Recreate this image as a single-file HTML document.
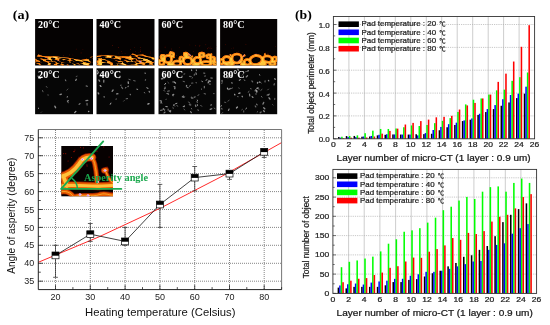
<!DOCTYPE html>
<html lang="en"><head><meta charset="utf-8"><title>Figure</title>
<style>html,body{margin:0;padding:0;background:#fff;overflow:hidden}svg{display:block}.s{font-family:'Liberation Sans', Arial, sans-serif}.r{font-family:'Liberation Serif', 'Times New Roman', serif}</style>
</head><body>
<svg width="550" height="325" viewBox="0 0 550 325">
<defs><filter id="b1" x="-5%" y="-5%" width="110%" height="110%"><feGaussianBlur stdDeviation="0.45"/></filter><filter id="b2"><feGaussianBlur stdDeviation="0.42"/></filter></defs>
<rect width="550" height="325" fill="#fff"/>
<text class="r" x="12.7" y="19.3" font-size="13" text-anchor="start" fill="#000" font-weight="bold" textLength="16.6" lengthAdjust="spacingAndGlyphs">(a)</text>
<text class="r" x="295.0" y="19.4" font-size="13" text-anchor="start" fill="#000" font-weight="bold" textLength="16.8" lengthAdjust="spacingAndGlyphs">(b)</text>
<filter id="net" x="-5%" y="-20%" width="110%" height="140%"><feMorphology in="SourceAlpha" operator="erode" radius="0.2" result="o"/><feFlood flood-color="#ff8814"/><feComposite in2="o" operator="in" result="or"/><feMorphology in="SourceAlpha" operator="erode" radius="0.55" result="e"/><feFlood flood-color="#ffd040"/><feComposite in2="e" operator="in" result="y"/><feMerge result="m"><feMergeNode in="SourceGraphic"/><feMergeNode in="or"/><feMergeNode in="y"/></feMerge><feGaussianBlur in="m" stdDeviation="0.35"/></filter>
<clipPath id="c0"><rect x="35.1" y="19.0" width="57.9" height="46.5"/></clipPath>
<rect x="35.1" y="19.0" width="57.9" height="46.5" fill="#050202"/>
<rect x="35.1" y="68.3" width="57.9" height="45.9" fill="#060606"/>
<g clip-path="url(#c0)">
<circle cx="63.6" cy="55.8" r="0.45" fill="#9a1400" opacity="0.74"/>
<circle cx="76.2" cy="49.1" r="0.45" fill="#9a1400" opacity="0.79"/>
<circle cx="81.1" cy="52.9" r="0.45" fill="#9a1400" opacity="0.87"/>
<circle cx="82.9" cy="49.3" r="0.45" fill="#9a1400" opacity="0.44"/>
<circle cx="72.9" cy="54.9" r="0.45" fill="#9a1400" opacity="0.57"/>
<circle cx="69.5" cy="54.9" r="0.45" fill="#9a1400" opacity="0.80"/>
<mask id="m0"><polygon points="34.1,59.1 35.1,59.1 38.3,54.6 42.7,55.9 49.1,56.5 55.5,56.3 61.8,57.2 68.2,57.8 74.5,59.1 80.9,60.1 86.0,59.1 89.8,57.2 93.0,55.9 94.0,55.9 94.0,66.5 34.1,66.5" fill="#fff"/><g fill="#000">
<ellipse cx="53.1" cy="58.7" rx="2.5" ry="1.3" transform="rotate(8 53.1 58.7)"/>
<ellipse cx="73.4" cy="60.2" rx="3.1" ry="1.0" transform="rotate(23 73.4 60.2)"/>
<ellipse cx="66.3" cy="61.4" rx="3.5" ry="1.5" transform="rotate(7 66.3 61.4)"/>
<ellipse cx="36.7" cy="62.2" rx="4.8" ry="0.8" transform="rotate(7 36.7 62.2)"/>
<ellipse cx="37.4" cy="57.6" rx="3.7" ry="1.2" transform="rotate(7 37.4 57.6)"/>
<ellipse cx="59.4" cy="65.0" rx="2.5" ry="1.1" transform="rotate(16 59.4 65.0)"/>
<ellipse cx="71.9" cy="66.1" rx="3.2" ry="1.2" transform="rotate(8 71.9 66.1)"/>
<ellipse cx="93.5" cy="57.3" rx="2.7" ry="1.0" transform="rotate(7 93.5 57.3)"/>
<ellipse cx="86.2" cy="61.8" rx="4.8" ry="1.0" transform="rotate(15 86.2 61.8)"/>
<ellipse cx="52.2" cy="64.8" rx="2.0" ry="1.5" transform="rotate(25 52.2 64.8)"/>
<ellipse cx="44.3" cy="62.5" rx="4.5" ry="1.2" transform="rotate(17 44.3 62.5)"/>
<ellipse cx="72.6" cy="62.2" rx="2.7" ry="1.3" transform="rotate(21 72.6 62.2)"/>
<ellipse cx="67.0" cy="59.1" rx="2.8" ry="0.9" transform="rotate(5 67.0 59.1)"/>
<ellipse cx="52.5" cy="62.7" rx="3.7" ry="1.1" transform="rotate(10 52.5 62.7)"/>
<ellipse cx="61.2" cy="60.5" rx="2.3" ry="1.5" transform="rotate(17 61.2 60.5)"/>
<ellipse cx="82.3" cy="64.8" rx="3.9" ry="0.9" transform="rotate(21 82.3 64.8)"/>
<ellipse cx="65.6" cy="65.5" rx="2.2" ry="1.4" transform="rotate(9 65.6 65.5)"/>
<ellipse cx="78.3" cy="62.3" rx="5.1" ry="1.3" transform="rotate(5 78.3 62.3)"/>
<ellipse cx="35.5" cy="64.1" rx="4.2" ry="1.3" transform="rotate(22 35.5 64.1)"/>
<ellipse cx="43.5" cy="58.0" rx="4.6" ry="1.0" transform="rotate(14 43.5 58.0)"/>
<ellipse cx="92.1" cy="63.6" rx="2.0" ry="1.5" transform="rotate(25 92.1 63.6)"/>
<ellipse cx="65.0" cy="63.4" rx="3.3" ry="1.1" transform="rotate(6 65.0 63.4)"/>
<ellipse cx="39.4" cy="59.7" rx="4.3" ry="1.0" transform="rotate(19 39.4 59.7)"/>
<ellipse cx="48.7" cy="60.6" rx="3.1" ry="0.9" transform="rotate(7 48.7 60.6)"/>
<ellipse cx="85.6" cy="66.5" rx="2.7" ry="0.9" transform="rotate(11 85.6 66.5)"/>
<ellipse cx="34.5" cy="66.2" rx="5.2" ry="1.6" transform="rotate(21 34.5 66.2)"/>
<ellipse cx="92.3" cy="61.3" rx="3.6" ry="1.2" transform="rotate(21 92.3 61.3)"/>
<ellipse cx="44.2" cy="64.5" rx="4.4" ry="1.5" transform="rotate(18 44.2 64.5)"/>
<ellipse cx="76.8" cy="64.3" rx="4.0" ry="0.9" transform="rotate(23 76.8 64.3)"/>
<ellipse cx="48.2" cy="66.2" rx="2.3" ry="1.4" transform="rotate(20 48.2 66.2)"/>
<ellipse cx="33.4" cy="59.8" rx="2.5" ry="1.0" transform="rotate(25 33.4 59.8)"/>
<ellipse cx="78.9" cy="66.4" rx="4.4" ry="1.3" transform="rotate(7 78.9 66.4)"/>
<ellipse cx="93.6" cy="65.9" rx="5.0" ry="1.5" transform="rotate(24 93.6 65.9)"/>
<ellipse cx="90.5" cy="58.9" rx="4.7" ry="1.4" transform="rotate(22 90.5 58.9)"/>
<ellipse cx="58.7" cy="62.3" rx="3.4" ry="1.3" transform="rotate(22 58.7 62.3)"/>
<ellipse cx="40.7" cy="66.3" rx="4.8" ry="1.4" transform="rotate(11 40.7 66.3)"/>
<ellipse cx="70.7" cy="64.2" rx="3.7" ry="1.6" transform="rotate(25 70.7 64.2)"/>
<ellipse cx="55.6" cy="66.4" rx="5.1" ry="0.8" transform="rotate(21 55.6 66.4)"/>
<ellipse cx="61.8" cy="58.2" rx="4.7" ry="0.7" transform="rotate(9 61.8 58.2)"/>
<ellipse cx="54.9" cy="60.7" rx="3.5" ry="0.9" transform="rotate(9 54.9 60.7)"/>
</g></mask>
<g filter="url(#net)"><g mask="url(#m0)"><rect x="33.1" y="40" width="61.9" height="30" fill="#c03400"/>
</g></g>
<g mask="url(#m0)" filter="url(#b2)" stroke-linecap="round">
<line x1="34.2" y1="62.4" x2="36.5" y2="62.2" stroke="#ffd040" stroke-width="1.0"/>
<line x1="68.8" y1="61.7" x2="71.4" y2="62.1" stroke="#ffc030" stroke-width="1.0"/>
<line x1="59.6" y1="57.7" x2="64.5" y2="58.4" stroke="#ffe070" stroke-width="1.2"/>
<line x1="59.6" y1="62.3" x2="61.7" y2="63.4" stroke="#ffd84a" stroke-width="1.0"/>
<line x1="85.8" y1="61.5" x2="88.2" y2="61.8" stroke="#ffe070" stroke-width="0.9"/>
<line x1="85.3" y1="62.3" x2="88.0" y2="63.9" stroke="#ffd040" stroke-width="1.0"/>
<line x1="83.7" y1="63.5" x2="88.0" y2="65.1" stroke="#ffe070" stroke-width="1.0"/>
<line x1="34.3" y1="64.6" x2="37.0" y2="64.5" stroke="#ffc030" stroke-width="1.2"/>
<line x1="72.3" y1="64.5" x2="76.2" y2="66.3" stroke="#ffd040" stroke-width="0.9"/>
<line x1="77.0" y1="61.3" x2="80.5" y2="62.0" stroke="#ffc030" stroke-width="1.0"/>
<line x1="88.8" y1="59.7" x2="92.4" y2="61.1" stroke="#ffd040" stroke-width="1.3"/>
<line x1="80.3" y1="60.2" x2="83.5" y2="61.4" stroke="#ffd84a" stroke-width="0.8"/>
<line x1="81.8" y1="63.3" x2="85.0" y2="64.3" stroke="#ffe070" stroke-width="1.2"/>
<line x1="77.3" y1="60.3" x2="79.7" y2="60.7" stroke="#ffc030" stroke-width="0.9"/>
<line x1="67.5" y1="62.7" x2="70.7" y2="62.5" stroke="#ffc030" stroke-width="1.1"/>
<line x1="47.3" y1="63.8" x2="50.9" y2="63.4" stroke="#ffd040" stroke-width="1.1"/>
<line x1="79.3" y1="63.5" x2="84.1" y2="64.3" stroke="#ffc030" stroke-width="1.1"/>
<line x1="49.0" y1="57.7" x2="53.3" y2="59.1" stroke="#ffc030" stroke-width="1.2"/>
<line x1="45.3" y1="63.9" x2="48.2" y2="63.8" stroke="#ffe070" stroke-width="1.1"/>
<line x1="85.9" y1="61.5" x2="89.4" y2="64.0" stroke="#ffc030" stroke-width="1.3"/>
<line x1="44.9" y1="58.8" x2="47.0" y2="60.2" stroke="#ffc030" stroke-width="1.3"/>
<line x1="57.0" y1="62.7" x2="59.9" y2="63.1" stroke="#ffd040" stroke-width="0.9"/>
<line x1="44.7" y1="64.2" x2="49.1" y2="65.2" stroke="#ffe070" stroke-width="1.2"/>
<line x1="51.8" y1="57.5" x2="54.9" y2="59.0" stroke="#ffd040" stroke-width="1.2"/>
<line x1="49.5" y1="59.2" x2="52.6" y2="61.1" stroke="#ffc030" stroke-width="1.2"/>
<line x1="40.3" y1="60.6" x2="43.9" y2="60.3" stroke="#ffc030" stroke-width="1.0"/>
<line x1="88.4" y1="59.9" x2="90.6" y2="60.0" stroke="#ffd84a" stroke-width="1.2"/>
<line x1="73.3" y1="61.5" x2="75.4" y2="62.6" stroke="#ffc030" stroke-width="0.9"/>
<line x1="44.2" y1="62.6" x2="46.4" y2="63.6" stroke="#ffd040" stroke-width="1.0"/>
<line x1="88.0" y1="63.3" x2="91.1" y2="63.8" stroke="#ffc030" stroke-width="1.0"/>
<line x1="44.1" y1="63.9" x2="47.6" y2="64.9" stroke="#ffc030" stroke-width="0.9"/>
<line x1="53.0" y1="57.1" x2="56.4" y2="57.8" stroke="#ffe070" stroke-width="1.1"/>
<line x1="56.2" y1="61.8" x2="60.7" y2="62.2" stroke="#ffe070" stroke-width="0.9"/>
<line x1="71.7" y1="63.4" x2="76.3" y2="64.7" stroke="#ffd84a" stroke-width="1.2"/>
<line x1="81.6" y1="63.1" x2="83.7" y2="64.3" stroke="#ffd040" stroke-width="1.1"/>
<line x1="48.9" y1="56.9" x2="53.1" y2="58.4" stroke="#ffc030" stroke-width="1.1"/>
<line x1="85.6" y1="60.7" x2="89.3" y2="61.3" stroke="#ffd84a" stroke-width="1.0"/>
<line x1="74.3" y1="59.5" x2="76.9" y2="61.0" stroke="#ffd84a" stroke-width="1.0"/>
<line x1="77.0" y1="62.1" x2="81.7" y2="63.4" stroke="#ffd84a" stroke-width="0.8"/>
<line x1="81.1" y1="60.7" x2="84.9" y2="61.0" stroke="#ffc030" stroke-width="1.3"/>
<line x1="63.7" y1="59.2" x2="68.0" y2="60.5" stroke="#ffc030" stroke-width="1.2"/>
<line x1="79.8" y1="63.4" x2="84.1" y2="63.0" stroke="#ffd84a" stroke-width="1.2"/>
<line x1="49.5" y1="59.4" x2="51.8" y2="61.0" stroke="#ffd84a" stroke-width="1.1"/>
<line x1="57.0" y1="61.1" x2="59.5" y2="61.9" stroke="#ffd84a" stroke-width="1.2"/>
<line x1="89.9" y1="59.4" x2="91.7" y2="60.7" stroke="#ffd040" stroke-width="1.1"/>
<line x1="58.4" y1="64.3" x2="61.7" y2="66.2" stroke="#ffe070" stroke-width="1.0"/>
<line x1="55.5" y1="60.4" x2="59.3" y2="61.4" stroke="#c070ff" stroke-width="1.0"/>
<line x1="45.3" y1="57.8" x2="47.8" y2="59.1" stroke="#c070ff" stroke-width="1.0"/>
</g>
</g>
<clipPath id="d0"><rect x="35.1" y="68.3" width="57.9" height="45.9"/></clipPath>
<g clip-path="url(#d0)" filter="url(#b2)" stroke-linecap="round">
<line x1="46.5" y1="86.7" x2="46.9" y2="87.2" stroke="rgb(151,151,151)" stroke-width="0.8"/>
<line x1="80.1" y1="103.5" x2="79.0" y2="104.5" stroke="rgb(110,110,110)" stroke-width="1.1"/>
<line x1="75.9" y1="111.4" x2="74.7" y2="112.6" stroke="rgb(163,163,163)" stroke-width="1.2"/>
<line x1="38.8" y1="78.3" x2="40.4" y2="78.4" stroke="rgb(165,165,165)" stroke-width="1.1"/>
<line x1="67.4" y1="96.4" x2="67.2" y2="97.3" stroke="rgb(130,130,130)" stroke-width="1.0"/>
<line x1="38.2" y1="76.2" x2="38.9" y2="77.7" stroke="rgb(143,143,143)" stroke-width="1.3"/>
<line x1="54.9" y1="106.2" x2="55.6" y2="107.7" stroke="rgb(147,147,147)" stroke-width="1.4"/>
<line x1="87.0" y1="103.4" x2="87.1" y2="105.0" stroke="rgb(101,101,101)" stroke-width="1.3"/>
<line x1="65.5" y1="79.9" x2="65.8" y2="80.8" stroke="rgb(169,169,169)" stroke-width="0.8"/>
<line x1="87.8" y1="100.3" x2="86.0" y2="100.6" stroke="rgb(140,140,140)" stroke-width="1.3"/>
<line x1="77.1" y1="76.2" x2="76.2" y2="76.5" stroke="rgb(102,102,102)" stroke-width="0.8"/>
<line x1="48.0" y1="94.8" x2="48.1" y2="95.2" stroke="rgb(96,96,96)" stroke-width="1.1"/>
<line x1="38.5" y1="108.1" x2="38.5" y2="108.6" stroke="rgb(126,126,126)" stroke-width="1.0"/>
<line x1="68.0" y1="89.0" x2="66.8" y2="90.1" stroke="rgb(85,85,85)" stroke-width="0.9"/>
<line x1="86.2" y1="85.9" x2="87.3" y2="86.3" stroke="rgb(101,101,101)" stroke-width="1.4"/>
<line x1="61.4" y1="94.2" x2="60.0" y2="94.6" stroke="rgb(141,141,141)" stroke-width="1.3"/>
<line x1="68.3" y1="100.7" x2="67.7" y2="101.0" stroke="rgb(168,168,168)" stroke-width="1.2"/>
<line x1="76.3" y1="79.2" x2="75.7" y2="80.4" stroke="rgb(145,145,145)" stroke-width="1.2"/>
<line x1="42.5" y1="90.5" x2="43.0" y2="91.8" stroke="rgb(114,114,114)" stroke-width="0.8"/>
<line x1="67.2" y1="101.6" x2="68.3" y2="102.5" stroke="rgb(167,167,167)" stroke-width="0.8"/>
<line x1="41.5" y1="112.0" x2="41.2" y2="112.3" stroke="rgb(91,91,91)" stroke-width="1.0"/>
<line x1="88.9" y1="111.3" x2="88.5" y2="111.6" stroke="rgb(156,156,156)" stroke-width="1.2"/>
</g>
<text class="r" x="38.1" y="28.2" font-size="9.6" text-anchor="start" fill="#fff" font-weight="bold" textLength="21.5" lengthAdjust="spacingAndGlyphs">20°C</text>
<text class="r" x="38.1" y="77.5" font-size="9.6" text-anchor="start" fill="#fff" font-weight="bold" textLength="21.5" lengthAdjust="spacingAndGlyphs">20°C</text>
<clipPath id="c1"><rect x="96.5" y="19.0" width="58.0" height="46.5"/></clipPath>
<rect x="96.5" y="19.0" width="58.0" height="46.5" fill="#050202"/>
<rect x="96.5" y="68.3" width="58.0" height="45.9" fill="#060606"/>
<g clip-path="url(#c1)">
<circle cx="118.7" cy="53.0" r="0.45" fill="#9a1400" opacity="0.40"/>
<circle cx="143.0" cy="54.2" r="0.45" fill="#9a1400" opacity="0.66"/>
<circle cx="96.8" cy="54.4" r="0.45" fill="#9a1400" opacity="0.61"/>
<circle cx="135.3" cy="51.4" r="0.45" fill="#9a1400" opacity="0.76"/>
<circle cx="120.2" cy="56.5" r="0.45" fill="#9a1400" opacity="0.88"/>
<circle cx="150.4" cy="52.0" r="0.45" fill="#9a1400" opacity="0.56"/>
<circle cx="118.3" cy="47.5" r="0.45" fill="#9a1400" opacity="0.85"/>
<circle cx="142.4" cy="54.2" r="0.45" fill="#9a1400" opacity="0.81"/>
<circle cx="154.0" cy="52.9" r="0.45" fill="#9a1400" opacity="0.56"/>
<circle cx="140.4" cy="47.4" r="0.45" fill="#9a1400" opacity="0.71"/>
<circle cx="105.7" cy="55.1" r="0.45" fill="#9a1400" opacity="0.64"/>
<circle cx="112.5" cy="56.0" r="0.45" fill="#9a1400" opacity="0.44"/>
<circle cx="150.5" cy="53.8" r="0.45" fill="#9a1400" opacity="0.47"/>
<circle cx="140.6" cy="51.5" r="0.45" fill="#9a1400" opacity="0.85"/>
<circle cx="130.5" cy="49.6" r="0.45" fill="#9a1400" opacity="0.87"/>
<circle cx="101.6" cy="54.1" r="0.45" fill="#9a1400" opacity="0.45"/>
<circle cx="112.5" cy="45.5" r="0.45" fill="#9a1400" opacity="0.84"/>
<circle cx="122.1" cy="53.4" r="0.45" fill="#9a1400" opacity="0.53"/>
<circle cx="138.9" cy="52.4" r="0.45" fill="#9a1400" opacity="0.45"/>
<circle cx="125.1" cy="53.4" r="0.45" fill="#9a1400" opacity="0.51"/>
<circle cx="134.5" cy="47.6" r="0.45" fill="#9a1400" opacity="0.59"/>
<circle cx="149.9" cy="56.3" r="0.45" fill="#9a1400" opacity="0.90"/>
<circle cx="121.3" cy="51.4" r="0.45" fill="#9a1400" opacity="0.80"/>
<circle cx="140.5" cy="49.9" r="0.45" fill="#9a1400" opacity="0.83"/>
<circle cx="119.8" cy="56.4" r="0.45" fill="#9a1400" opacity="0.64"/>
<mask id="m1"><polygon points="95.5,55.9 96.5,55.9 104.7,55.0 117.5,55.9 128.9,56.5 132.7,53.4 136.5,55.0 142.9,54.6 148.0,56.5 154.4,57.2 155.5,57.2 155.5,66.5 95.5,66.5" fill="#fff"/><g fill="#000">
<ellipse cx="151.5" cy="60.1" rx="4.0" ry="1.1" transform="rotate(16 151.5 60.1)"/>
<ellipse cx="104.0" cy="56.2" rx="3.4" ry="0.7" transform="rotate(-0 104.0 56.2)"/>
<ellipse cx="141.4" cy="56.8" rx="4.1" ry="1.2" transform="rotate(11 141.4 56.8)"/>
<ellipse cx="154.8" cy="64.1" rx="2.5" ry="1.6" transform="rotate(2 154.8 64.1)"/>
<ellipse cx="106.1" cy="64.5" rx="4.5" ry="1.5" transform="rotate(7 106.1 64.5)"/>
<ellipse cx="104.6" cy="61.3" rx="3.1" ry="1.3" transform="rotate(17 104.6 61.3)"/>
<ellipse cx="149.7" cy="65.8" rx="3.3" ry="1.2" transform="rotate(-3 149.7 65.8)"/>
<ellipse cx="94.6" cy="65.1" rx="4.9" ry="0.8" transform="rotate(13 94.6 65.1)"/>
<ellipse cx="129.0" cy="64.9" rx="3.0" ry="0.8" transform="rotate(4 129.0 64.9)"/>
<ellipse cx="125.7" cy="63.0" rx="3.2" ry="1.2" transform="rotate(15 125.7 63.0)"/>
<ellipse cx="128.3" cy="60.1" rx="3.7" ry="1.0" transform="rotate(16 128.3 60.1)"/>
<ellipse cx="119.1" cy="57.0" rx="3.5" ry="0.6" transform="rotate(1 119.1 57.0)"/>
<ellipse cx="134.8" cy="57.5" rx="3.9" ry="1.1" transform="rotate(12 134.8 57.5)"/>
<ellipse cx="139.8" cy="64.9" rx="3.2" ry="1.0" transform="rotate(2 139.8 64.9)"/>
<ellipse cx="147.1" cy="58.1" rx="4.9" ry="1.1" transform="rotate(6 147.1 58.1)"/>
<ellipse cx="117.3" cy="59.7" rx="3.1" ry="1.0" transform="rotate(13 117.3 59.7)"/>
<ellipse cx="99.1" cy="57.7" rx="4.2" ry="0.9" transform="rotate(-7 99.1 57.7)"/>
<ellipse cx="137.4" cy="62.2" rx="2.2" ry="0.9" transform="rotate(13 137.4 62.2)"/>
<ellipse cx="119.8" cy="62.8" rx="2.7" ry="0.9" transform="rotate(-7 119.8 62.8)"/>
<ellipse cx="121.2" cy="65.3" rx="4.3" ry="1.0" transform="rotate(11 121.2 65.3)"/>
<ellipse cx="110.2" cy="59.4" rx="5.0" ry="1.5" transform="rotate(6 110.2 59.4)"/>
<ellipse cx="114.9" cy="64.2" rx="2.3" ry="1.5" transform="rotate(16 114.9 64.2)"/>
<ellipse cx="143.8" cy="61.5" rx="2.6" ry="1.1" transform="rotate(11 143.8 61.5)"/>
<ellipse cx="95.3" cy="59.8" rx="3.2" ry="1.5" transform="rotate(-6 95.3 59.8)"/>
<ellipse cx="131.6" cy="63.1" rx="4.4" ry="1.5" transform="rotate(8 131.6 63.1)"/>
<ellipse cx="113.3" cy="57.2" rx="2.1" ry="1.2" transform="rotate(-7 113.3 57.2)"/>
<ellipse cx="102.6" cy="66.1" rx="2.1" ry="0.9" transform="rotate(10 102.6 66.1)"/>
<ellipse cx="134.3" cy="60.4" rx="2.4" ry="1.3" transform="rotate(-4 134.3 60.4)"/>
<ellipse cx="155.5" cy="61.8" rx="3.9" ry="0.9" transform="rotate(9 155.5 61.8)"/>
<ellipse cx="94.5" cy="62.9" rx="3.2" ry="1.6" transform="rotate(17 94.5 62.9)"/>
<ellipse cx="140.1" cy="59.6" rx="3.3" ry="1.1" transform="rotate(-1 140.1 59.6)"/>
<ellipse cx="155.7" cy="57.6" rx="5.1" ry="0.7" transform="rotate(18 155.7 57.6)"/>
<ellipse cx="123.1" cy="59.0" rx="2.6" ry="1.3" transform="rotate(-3 123.1 59.0)"/>
<ellipse cx="132.9" cy="55.6" rx="3.1" ry="0.9" transform="rotate(11 132.9 55.6)"/>
<ellipse cx="144.4" cy="66.4" rx="3.7" ry="0.8" transform="rotate(10 144.4 66.4)"/>
<ellipse cx="123.1" cy="60.9" rx="3.4" ry="0.8" transform="rotate(13 123.1 60.9)"/>
<ellipse cx="134.1" cy="66.5" rx="3.4" ry="1.2" transform="rotate(15 134.1 66.5)"/>
<ellipse cx="104.5" cy="58.2" rx="3.1" ry="1.3" transform="rotate(2 104.5 58.2)"/>
<ellipse cx="114.1" cy="61.6" rx="4.8" ry="1.6" transform="rotate(16 114.1 61.6)"/>
<ellipse cx="147.2" cy="64.0" rx="2.5" ry="1.2" transform="rotate(-3 147.2 64.0)"/>
</g></mask>
<g filter="url(#net)"><g mask="url(#m1)"><rect x="94.5" y="40" width="62.0" height="30" fill="#c03400"/>
</g></g>
<g mask="url(#m1)" filter="url(#b2)" stroke-linecap="round">
<line x1="101.4" y1="63.5" x2="105.4" y2="62.7" stroke="#ffd84a" stroke-width="1.1"/>
<line x1="145.3" y1="62.5" x2="148.1" y2="63.8" stroke="#ffd040" stroke-width="1.2"/>
<line x1="110.5" y1="60.8" x2="112.6" y2="60.9" stroke="#ffd84a" stroke-width="1.2"/>
<line x1="146.6" y1="57.4" x2="150.0" y2="57.6" stroke="#ffd84a" stroke-width="1.2"/>
<line x1="115.2" y1="65.1" x2="117.6" y2="64.7" stroke="#ffd84a" stroke-width="1.1"/>
<line x1="142.8" y1="58.9" x2="147.4" y2="58.1" stroke="#ffe070" stroke-width="1.0"/>
<line x1="140.9" y1="57.3" x2="143.3" y2="58.4" stroke="#ffc030" stroke-width="1.3"/>
<line x1="139.0" y1="61.5" x2="143.5" y2="62.0" stroke="#ffd040" stroke-width="0.9"/>
<line x1="119.6" y1="60.9" x2="121.7" y2="60.8" stroke="#ffd040" stroke-width="0.9"/>
<line x1="121.2" y1="62.9" x2="125.5" y2="65.0" stroke="#ffe070" stroke-width="1.1"/>
<line x1="101.3" y1="57.9" x2="105.6" y2="59.8" stroke="#ffd040" stroke-width="1.0"/>
<line x1="148.9" y1="62.4" x2="152.3" y2="61.6" stroke="#ffc030" stroke-width="0.9"/>
<line x1="145.7" y1="59.1" x2="150.1" y2="61.3" stroke="#ffe070" stroke-width="1.0"/>
<line x1="111.6" y1="59.1" x2="114.1" y2="59.5" stroke="#ffd84a" stroke-width="1.0"/>
<line x1="121.5" y1="65.0" x2="124.6" y2="65.2" stroke="#ffc030" stroke-width="1.0"/>
<line x1="148.6" y1="58.1" x2="152.2" y2="59.9" stroke="#ffe070" stroke-width="1.0"/>
<line x1="130.4" y1="57.5" x2="132.8" y2="58.7" stroke="#ffd84a" stroke-width="1.0"/>
<line x1="106.7" y1="56.4" x2="110.6" y2="56.8" stroke="#ffe070" stroke-width="1.1"/>
<line x1="134.4" y1="63.8" x2="138.0" y2="65.7" stroke="#ffd84a" stroke-width="0.9"/>
<line x1="150.7" y1="58.5" x2="155.4" y2="58.1" stroke="#ffd84a" stroke-width="1.1"/>
<line x1="115.5" y1="62.7" x2="118.1" y2="63.0" stroke="#ffe070" stroke-width="1.3"/>
<line x1="147.9" y1="59.3" x2="150.2" y2="58.9" stroke="#ffc030" stroke-width="1.1"/>
<line x1="117.0" y1="66.0" x2="120.6" y2="64.9" stroke="#ffd040" stroke-width="0.9"/>
<line x1="138.3" y1="58.4" x2="141.3" y2="57.8" stroke="#ffd84a" stroke-width="1.3"/>
<line x1="152.2" y1="65.1" x2="156.1" y2="65.8" stroke="#ffe070" stroke-width="1.0"/>
<line x1="116.3" y1="57.1" x2="119.1" y2="58.4" stroke="#ffe070" stroke-width="0.9"/>
<line x1="104.2" y1="56.4" x2="106.4" y2="57.1" stroke="#ffc030" stroke-width="1.1"/>
<line x1="128.0" y1="61.5" x2="131.6" y2="61.5" stroke="#ffd84a" stroke-width="1.2"/>
<line x1="109.3" y1="56.9" x2="111.1" y2="57.8" stroke="#ffc030" stroke-width="0.9"/>
<line x1="100.4" y1="60.5" x2="103.4" y2="60.5" stroke="#ffd84a" stroke-width="0.9"/>
<line x1="133.6" y1="63.7" x2="137.1" y2="63.9" stroke="#ffd84a" stroke-width="1.1"/>
<line x1="105.5" y1="56.8" x2="108.4" y2="56.1" stroke="#ffd84a" stroke-width="1.0"/>
<line x1="99.0" y1="63.7" x2="103.2" y2="62.6" stroke="#ffd040" stroke-width="0.9"/>
<line x1="103.1" y1="58.8" x2="107.8" y2="58.5" stroke="#ffd040" stroke-width="1.3"/>
<line x1="128.7" y1="59.6" x2="132.4" y2="61.6" stroke="#ffe070" stroke-width="1.2"/>
<line x1="141.3" y1="58.5" x2="143.4" y2="57.9" stroke="#ffe070" stroke-width="1.1"/>
<line x1="104.3" y1="62.2" x2="108.2" y2="62.3" stroke="#ffd84a" stroke-width="0.9"/>
<line x1="122.5" y1="62.7" x2="124.7" y2="63.2" stroke="#ffd040" stroke-width="0.8"/>
<line x1="135.0" y1="65.5" x2="137.8" y2="65.4" stroke="#ffc030" stroke-width="0.9"/>
<line x1="118.5" y1="62.7" x2="121.0" y2="62.8" stroke="#ffd84a" stroke-width="0.8"/>
<line x1="106.1" y1="58.1" x2="109.2" y2="58.7" stroke="#ffd040" stroke-width="0.9"/>
<line x1="100.6" y1="64.5" x2="103.9" y2="65.0" stroke="#ffd84a" stroke-width="1.3"/>
<line x1="142.1" y1="60.6" x2="145.4" y2="59.9" stroke="#ffe070" stroke-width="1.1"/>
<line x1="96.1" y1="57.1" x2="99.8" y2="59.0" stroke="#ffd84a" stroke-width="0.9"/>
<line x1="113.1" y1="56.5" x2="117.2" y2="57.2" stroke="#ffc030" stroke-width="0.9"/>
<line x1="143.5" y1="59.4" x2="145.8" y2="60.2" stroke="#ffd040" stroke-width="1.0"/>
<line x1="130.2" y1="55.0" x2="134.0" y2="57.2" stroke="#c070ff" stroke-width="1.0"/>
<line x1="137.8" y1="57.8" x2="141.0" y2="62.3" stroke="#c070ff" stroke-width="1.0"/>
</g>
</g>
<clipPath id="d1"><rect x="96.5" y="68.3" width="58.0" height="45.9"/></clipPath>
<g clip-path="url(#d1)" filter="url(#b2)" stroke-linecap="round">
<line x1="98.2" y1="72.7" x2="97.2" y2="73.9" stroke="rgb(166,166,166)" stroke-width="1.3"/>
<line x1="133.7" y1="80.5" x2="135.1" y2="81.0" stroke="rgb(96,96,96)" stroke-width="1.2"/>
<line x1="97.3" y1="70.4" x2="98.1" y2="71.9" stroke="rgb(160,160,160)" stroke-width="1.0"/>
<line x1="149.0" y1="103.6" x2="147.8" y2="104.1" stroke="rgb(167,167,167)" stroke-width="1.3"/>
<line x1="144.3" y1="92.4" x2="144.7" y2="93.0" stroke="rgb(128,128,128)" stroke-width="0.9"/>
<line x1="118.0" y1="93.8" x2="116.7" y2="93.9" stroke="rgb(169,169,169)" stroke-width="1.1"/>
<line x1="125.9" y1="87.4" x2="125.6" y2="88.0" stroke="rgb(153,153,153)" stroke-width="1.0"/>
<line x1="104.1" y1="96.4" x2="104.2" y2="97.3" stroke="rgb(145,145,145)" stroke-width="0.9"/>
<line x1="149.2" y1="91.4" x2="149.5" y2="92.1" stroke="rgb(136,136,136)" stroke-width="1.3"/>
<line x1="98.9" y1="80.0" x2="99.6" y2="81.1" stroke="rgb(142,142,142)" stroke-width="1.3"/>
<line x1="136.8" y1="89.2" x2="137.7" y2="89.4" stroke="rgb(168,168,168)" stroke-width="0.9"/>
<line x1="110.9" y1="103.1" x2="110.3" y2="104.3" stroke="rgb(166,166,166)" stroke-width="1.0"/>
<line x1="98.2" y1="92.9" x2="98.7" y2="93.8" stroke="rgb(140,140,140)" stroke-width="1.4"/>
<line x1="127.6" y1="98.6" x2="126.1" y2="98.8" stroke="rgb(114,114,114)" stroke-width="1.0"/>
<line x1="124.2" y1="100.6" x2="123.7" y2="101.1" stroke="rgb(98,98,98)" stroke-width="1.0"/>
<line x1="113.1" y1="90.0" x2="112.1" y2="91.3" stroke="rgb(138,138,138)" stroke-width="1.3"/>
<line x1="121.6" y1="87.1" x2="122.6" y2="88.5" stroke="rgb(108,108,108)" stroke-width="1.2"/>
<line x1="117.4" y1="71.6" x2="117.0" y2="72.3" stroke="rgb(89,89,89)" stroke-width="1.3"/>
<line x1="146.8" y1="87.6" x2="148.0" y2="88.5" stroke="rgb(132,132,132)" stroke-width="1.1"/>
<line x1="103.8" y1="80.3" x2="103.7" y2="82.1" stroke="rgb(117,117,117)" stroke-width="1.4"/>
<line x1="120.0" y1="77.0" x2="118.9" y2="77.9" stroke="rgb(99,99,99)" stroke-width="1.3"/>
<line x1="116.3" y1="98.8" x2="116.0" y2="99.4" stroke="rgb(87,87,87)" stroke-width="1.1"/>
<line x1="128.9" y1="79.3" x2="130.2" y2="79.7" stroke="rgb(115,115,115)" stroke-width="0.9"/>
<line x1="130.2" y1="94.3" x2="130.4" y2="94.7" stroke="rgb(126,126,126)" stroke-width="1.1"/>
<line x1="145.1" y1="72.9" x2="145.2" y2="73.6" stroke="rgb(141,141,141)" stroke-width="1.0"/>
<line x1="121.1" y1="85.2" x2="120.6" y2="85.3" stroke="rgb(136,136,136)" stroke-width="0.9"/>
<line x1="145.6" y1="79.5" x2="145.3" y2="80.4" stroke="rgb(89,89,89)" stroke-width="1.1"/>
<line x1="128.2" y1="81.9" x2="128.4" y2="83.3" stroke="rgb(144,144,144)" stroke-width="1.4"/>
<line x1="100.1" y1="85.6" x2="101.0" y2="86.4" stroke="rgb(161,161,161)" stroke-width="1.3"/>
<line x1="128.4" y1="86.1" x2="128.0" y2="86.5" stroke="rgb(118,118,118)" stroke-width="1.3"/>
</g>
<text class="r" x="99.5" y="28.2" font-size="9.6" text-anchor="start" fill="#fff" font-weight="bold" textLength="21.5" lengthAdjust="spacingAndGlyphs">40°C</text>
<text class="r" x="99.5" y="77.5" font-size="9.6" text-anchor="start" fill="#fff" font-weight="bold" textLength="21.5" lengthAdjust="spacingAndGlyphs">40°C</text>
<clipPath id="c2"><rect x="158.5" y="19.0" width="58.0" height="46.5"/></clipPath>
<rect x="158.5" y="19.0" width="58.0" height="46.5" fill="#050202"/>
<rect x="158.5" y="68.3" width="58.0" height="45.9" fill="#060606"/>
<g clip-path="url(#c2)">
<circle cx="201.9" cy="56.2" r="0.45" fill="#9a1400" opacity="0.84"/>
<circle cx="176.5" cy="55.3" r="0.45" fill="#9a1400" opacity="0.75"/>
<circle cx="162.4" cy="55.8" r="0.45" fill="#9a1400" opacity="0.49"/>
<circle cx="158.8" cy="49.3" r="0.45" fill="#9a1400" opacity="0.63"/>
<circle cx="211.8" cy="48.5" r="0.45" fill="#9a1400" opacity="0.58"/>
<circle cx="199.9" cy="45.3" r="0.45" fill="#9a1400" opacity="0.66"/>
<circle cx="165.1" cy="47.8" r="0.45" fill="#9a1400" opacity="0.67"/>
<circle cx="171.3" cy="49.0" r="0.45" fill="#9a1400" opacity="0.82"/>
<circle cx="193.4" cy="51.3" r="0.45" fill="#9a1400" opacity="0.54"/>
<circle cx="202.7" cy="52.0" r="0.45" fill="#9a1400" opacity="0.76"/>
<circle cx="207.4" cy="48.8" r="0.45" fill="#9a1400" opacity="0.89"/>
<circle cx="195.7" cy="45.8" r="0.45" fill="#9a1400" opacity="0.74"/>
<circle cx="165.1" cy="46.1" r="0.45" fill="#9a1400" opacity="0.41"/>
<circle cx="210.6" cy="46.9" r="0.45" fill="#9a1400" opacity="0.40"/>
<circle cx="216.4" cy="46.6" r="0.45" fill="#9a1400" opacity="0.67"/>
<circle cx="179.4" cy="47.4" r="0.45" fill="#9a1400" opacity="0.49"/>
<circle cx="199.4" cy="46.1" r="0.45" fill="#9a1400" opacity="0.86"/>
<circle cx="205.8" cy="44.8" r="0.45" fill="#9a1400" opacity="0.59"/>
<circle cx="210.0" cy="48.2" r="0.45" fill="#9a1400" opacity="0.60"/>
<circle cx="160.9" cy="51.1" r="0.45" fill="#9a1400" opacity="0.80"/>
<circle cx="189.9" cy="44.9" r="0.45" fill="#9a1400" opacity="0.49"/>
<circle cx="169.3" cy="54.5" r="0.45" fill="#9a1400" opacity="0.65"/>
<circle cx="199.2" cy="54.0" r="0.45" fill="#9a1400" opacity="0.73"/>
<circle cx="208.9" cy="47.8" r="0.45" fill="#9a1400" opacity="0.67"/>
<circle cx="200.1" cy="53.5" r="0.45" fill="#9a1400" opacity="0.46"/>
<g filter="url(#net)" fill="none" stroke="#c03400" stroke-linecap="round">
<ellipse cx="168.0" cy="59.1" rx="3.6" ry="3.6" stroke-width="2.6" transform="rotate(0 168.0 59.1)"/>
<ellipse cx="161.6" cy="62.7" rx="2.5" ry="2.2" stroke-width="2.5" transform="rotate(0 161.6 62.7)"/>
<ellipse cx="176.9" cy="63.5" rx="3.9" ry="2.5" stroke-width="2.6" transform="rotate(0 176.9 63.5)"/>
<ellipse cx="187.7" cy="61.0" rx="4.2" ry="3.6" stroke-width="2.7" transform="rotate(0 187.7 61.0)"/>
<ellipse cx="197.3" cy="60.4" rx="3.4" ry="3.1" stroke-width="2.6" transform="rotate(0 197.3 60.4)"/>
<ellipse cx="206.2" cy="63.5" rx="4.8" ry="2.1" stroke-width="2.5" transform="rotate(0 206.2 63.5)"/>
<ellipse cx="212.5" cy="59.1" rx="2.2" ry="2.0" stroke-width="2.5" transform="rotate(0 212.5 59.1)"/>
<ellipse cx="196.0" cy="65.1" rx="3.1" ry="1.1" stroke-width="2.2" transform="rotate(0 196.0 65.1)"/>
<ellipse cx="181.4" cy="59.1" rx="1.7" ry="2.2" stroke-width="2.4" transform="rotate(0 181.4 59.1)"/>
<ellipse cx="171.8" cy="54.3" rx="2.0" ry="1.7" stroke-width="2.4" transform="rotate(0 171.8 54.3)"/>
<ellipse cx="185.8" cy="54.3" rx="1.7" ry="1.4" stroke-width="2.4" transform="rotate(0 185.8 54.3)"/>
<ellipse cx="201.7" cy="55.0" rx="2.5" ry="2.0" stroke-width="2.5" transform="rotate(0 201.7 55.0)"/>
<ellipse cx="208.7" cy="56.3" rx="2.0" ry="1.7" stroke-width="2.3" transform="rotate(0 208.7 56.3)"/>
<ellipse cx="162.9" cy="56.8" rx="2.0" ry="1.7" stroke-width="2.4" transform="rotate(0 162.9 56.8)"/>
<ellipse cx="215.3" cy="63.5" rx="1.7" ry="1.7" stroke-width="2.3" transform="rotate(0 215.3 63.5)"/>
<ellipse cx="170.5" cy="64.8" rx="2.5" ry="1.1" stroke-width="2.2" transform="rotate(0 170.5 64.8)"/>
<ellipse cx="156.5" cy="61.0" rx="2.2" ry="2.0" stroke-width="2.3" transform="rotate(0 156.5 61.0)"/>
<circle cx="170.5" cy="52.3" r="1.1" fill="#c03400" stroke="none"/>
<circle cx="161.6" cy="55.3" r="1.0" fill="#c03400" stroke="none"/>
<circle cx="184.5" cy="53.0" r="1.1" fill="#c03400" stroke="none"/>
<circle cx="201.1" cy="53.0" r="1.1" fill="#c03400" stroke="none"/>
<circle cx="173.7" cy="57.2" r="1.1" fill="#c03400" stroke="none"/>
<circle cx="192.2" cy="56.5" r="1.0" fill="#c03400" stroke="none"/>
<circle cx="211.3" cy="54.3" r="1.0" fill="#c03400" stroke="none"/>
<line x1="161.6" y1="55.0" x2="164.8" y2="55.5" stroke="#c070ff" stroke-width="1.1"/>
<line x1="170.5" y1="52.1" x2="173.1" y2="53.4" stroke="#c070ff" stroke-width="1.1"/>
<line x1="188.4" y1="53.7" x2="190.3" y2="55.3" stroke="#c070ff" stroke-width="1.1"/>
</g>
</g>
<clipPath id="d2"><rect x="158.5" y="68.3" width="58.0" height="45.9"/></clipPath>
<g clip-path="url(#d2)" filter="url(#b2)" stroke-linecap="round">
<line x1="174.1" y1="82.0" x2="175.5" y2="83.0" stroke="rgb(158,158,158)" stroke-width="1.3"/>
<line x1="197.0" y1="101.7" x2="197.3" y2="102.2" stroke="rgb(131,131,131)" stroke-width="1.1"/>
<line x1="189.5" y1="76.3" x2="191.1" y2="76.7" stroke="rgb(95,95,95)" stroke-width="1.2"/>
<line x1="162.1" y1="110.2" x2="160.7" y2="110.4" stroke="rgb(119,119,119)" stroke-width="1.3"/>
<line x1="163.6" y1="109.0" x2="163.2" y2="109.1" stroke="rgb(164,164,164)" stroke-width="1.3"/>
<line x1="184.5" y1="105.3" x2="183.8" y2="106.2" stroke="rgb(108,108,108)" stroke-width="0.9"/>
<line x1="209.4" y1="84.1" x2="210.3" y2="84.2" stroke="rgb(93,93,93)" stroke-width="1.3"/>
<line x1="160.1" y1="100.8" x2="161.4" y2="101.0" stroke="rgb(170,170,170)" stroke-width="1.0"/>
<line x1="211.8" y1="108.7" x2="210.2" y2="109.4" stroke="rgb(141,141,141)" stroke-width="1.2"/>
<line x1="213.6" y1="93.6" x2="214.1" y2="93.6" stroke="rgb(121,121,121)" stroke-width="0.9"/>
<line x1="164.7" y1="109.3" x2="164.5" y2="110.5" stroke="rgb(103,103,103)" stroke-width="1.0"/>
<line x1="190.5" y1="85.4" x2="189.3" y2="86.3" stroke="rgb(113,113,113)" stroke-width="1.0"/>
<line x1="200.7" y1="105.3" x2="201.7" y2="106.3" stroke="rgb(135,135,135)" stroke-width="0.8"/>
<line x1="165.2" y1="88.3" x2="164.4" y2="88.9" stroke="rgb(129,129,129)" stroke-width="1.1"/>
<line x1="161.6" y1="101.8" x2="160.4" y2="103.0" stroke="rgb(130,130,130)" stroke-width="1.0"/>
<line x1="169.3" y1="90.9" x2="167.6" y2="91.3" stroke="rgb(105,105,105)" stroke-width="1.1"/>
<line x1="168.1" y1="109.1" x2="168.2" y2="110.2" stroke="rgb(110,110,110)" stroke-width="1.2"/>
<line x1="173.8" y1="94.3" x2="173.1" y2="94.5" stroke="rgb(129,129,129)" stroke-width="1.2"/>
<line x1="186.6" y1="85.5" x2="186.4" y2="86.2" stroke="rgb(140,140,140)" stroke-width="1.3"/>
<line x1="208.6" y1="82.4" x2="208.1" y2="82.8" stroke="rgb(155,155,155)" stroke-width="1.2"/>
<line x1="194.9" y1="74.5" x2="194.2" y2="75.1" stroke="rgb(97,97,97)" stroke-width="1.3"/>
<line x1="197.3" y1="104.4" x2="197.6" y2="105.7" stroke="rgb(140,140,140)" stroke-width="0.9"/>
<line x1="165.1" y1="87.1" x2="165.1" y2="87.7" stroke="rgb(113,113,113)" stroke-width="1.2"/>
<line x1="183.1" y1="81.3" x2="184.5" y2="81.7" stroke="rgb(109,109,109)" stroke-width="0.9"/>
<line x1="192.6" y1="77.3" x2="192.1" y2="78.3" stroke="rgb(97,97,97)" stroke-width="0.8"/>
<line x1="210.8" y1="78.0" x2="212.3" y2="78.1" stroke="rgb(157,157,157)" stroke-width="0.9"/>
<line x1="184.5" y1="106.6" x2="183.2" y2="106.6" stroke="rgb(161,161,161)" stroke-width="0.9"/>
<line x1="191.4" y1="97.3" x2="191.8" y2="98.2" stroke="rgb(93,93,93)" stroke-width="1.4"/>
<line x1="167.8" y1="82.2" x2="168.9" y2="83.3" stroke="rgb(97,97,97)" stroke-width="0.8"/>
<line x1="191.3" y1="108.5" x2="191.8" y2="108.9" stroke="rgb(117,117,117)" stroke-width="1.0"/>
<line x1="164.0" y1="90.5" x2="164.6" y2="91.1" stroke="rgb(144,144,144)" stroke-width="0.9"/>
<line x1="172.9" y1="107.2" x2="173.3" y2="108.6" stroke="rgb(86,86,86)" stroke-width="0.9"/>
<line x1="201.5" y1="88.9" x2="201.5" y2="89.4" stroke="rgb(113,113,113)" stroke-width="0.9"/>
<line x1="161.3" y1="101.7" x2="161.8" y2="103.3" stroke="rgb(135,135,135)" stroke-width="0.9"/>
<line x1="183.5" y1="96.1" x2="182.3" y2="96.9" stroke="rgb(140,140,140)" stroke-width="1.2"/>
<line x1="188.7" y1="102.0" x2="189.7" y2="103.2" stroke="rgb(137,137,137)" stroke-width="0.9"/>
<line x1="163.1" y1="78.6" x2="161.4" y2="78.9" stroke="rgb(156,156,156)" stroke-width="1.1"/>
<line x1="166.6" y1="99.2" x2="165.7" y2="99.5" stroke="rgb(86,86,86)" stroke-width="0.8"/>
<line x1="195.1" y1="96.8" x2="194.1" y2="97.3" stroke="rgb(101,101,101)" stroke-width="1.3"/>
<line x1="184.1" y1="97.1" x2="183.5" y2="97.3" stroke="rgb(135,135,135)" stroke-width="1.2"/>
<line x1="196.3" y1="69.8" x2="196.4" y2="70.7" stroke="rgb(161,161,161)" stroke-width="0.9"/>
<line x1="163.1" y1="71.4" x2="163.5" y2="71.5" stroke="rgb(122,122,122)" stroke-width="1.0"/>
<line x1="189.4" y1="104.5" x2="190.7" y2="105.0" stroke="rgb(93,93,93)" stroke-width="1.4"/>
<line x1="176.9" y1="103.3" x2="175.6" y2="103.7" stroke="rgb(163,163,163)" stroke-width="1.0"/>
<line x1="187.0" y1="87.3" x2="188.1" y2="87.7" stroke="rgb(123,123,123)" stroke-width="1.1"/>
<line x1="184.8" y1="73.9" x2="183.9" y2="74.1" stroke="rgb(110,110,110)" stroke-width="1.0"/>
<line x1="195.5" y1="105.2" x2="195.9" y2="106.5" stroke="rgb(120,120,120)" stroke-width="1.3"/>
<line x1="191.8" y1="97.3" x2="192.9" y2="98.5" stroke="rgb(104,104,104)" stroke-width="1.1"/>
<line x1="201.7" y1="81.2" x2="202.7" y2="81.7" stroke="rgb(139,139,139)" stroke-width="0.9"/>
<line x1="174.6" y1="106.0" x2="175.0" y2="106.2" stroke="rgb(95,95,95)" stroke-width="0.8"/>
<line x1="184.0" y1="109.0" x2="184.7" y2="110.0" stroke="rgb(93,93,93)" stroke-width="0.9"/>
<line x1="204.3" y1="86.3" x2="204.3" y2="87.9" stroke="rgb(133,133,133)" stroke-width="1.0"/>
<line x1="203.7" y1="73.1" x2="204.8" y2="73.2" stroke="rgb(166,166,166)" stroke-width="0.8"/>
<line x1="164.6" y1="77.5" x2="164.6" y2="78.1" stroke="rgb(138,138,138)" stroke-width="1.1"/>
<line x1="192.9" y1="83.0" x2="191.7" y2="83.1" stroke="rgb(97,97,97)" stroke-width="1.1"/>
<line x1="196.0" y1="82.7" x2="196.5" y2="82.8" stroke="rgb(139,139,139)" stroke-width="0.8"/>
<line x1="198.6" y1="94.8" x2="198.1" y2="95.4" stroke="rgb(148,148,148)" stroke-width="1.0"/>
<line x1="191.6" y1="69.8" x2="191.7" y2="70.7" stroke="rgb(155,155,155)" stroke-width="1.0"/>
<line x1="195.9" y1="72.7" x2="195.0" y2="73.4" stroke="rgb(114,114,114)" stroke-width="1.0"/>
<line x1="177.0" y1="105.5" x2="177.5" y2="106.2" stroke="rgb(116,116,116)" stroke-width="1.0"/>
<line x1="210.3" y1="81.3" x2="208.7" y2="81.4" stroke="rgb(140,140,140)" stroke-width="1.4"/>
<line x1="174.0" y1="104.7" x2="173.8" y2="105.4" stroke="rgb(155,155,155)" stroke-width="1.2"/>
<line x1="204.1" y1="93.6" x2="205.6" y2="94.0" stroke="rgb(107,107,107)" stroke-width="1.0"/>
<line x1="198.0" y1="109.8" x2="198.2" y2="110.4" stroke="rgb(168,168,168)" stroke-width="0.9"/>
<line x1="196.4" y1="73.2" x2="196.5" y2="74.5" stroke="rgb(138,138,138)" stroke-width="0.8"/>
<line x1="170.0" y1="111.0" x2="170.4" y2="111.9" stroke="rgb(132,132,132)" stroke-width="1.2"/>
<line x1="190.5" y1="111.6" x2="191.4" y2="112.7" stroke="rgb(136,136,136)" stroke-width="1.1"/>
<line x1="170.8" y1="110.9" x2="169.3" y2="111.1" stroke="rgb(156,156,156)" stroke-width="1.1"/>
<line x1="207.0" y1="79.4" x2="206.0" y2="80.4" stroke="rgb(107,107,107)" stroke-width="1.3"/>
<line x1="209.2" y1="80.7" x2="208.3" y2="81.4" stroke="rgb(124,124,124)" stroke-width="1.2"/>
<line x1="214.1" y1="108.1" x2="215.1" y2="108.7" stroke="rgb(107,107,107)" stroke-width="0.9"/>
<line x1="167.9" y1="94.0" x2="168.6" y2="94.5" stroke="rgb(98,98,98)" stroke-width="1.1"/>
<line x1="168.3" y1="93.4" x2="166.8" y2="93.5" stroke="rgb(121,121,121)" stroke-width="1.0"/>
<line x1="174.0" y1="86.6" x2="175.0" y2="86.7" stroke="rgb(133,133,133)" stroke-width="1.1"/>
<line x1="184.4" y1="96.8" x2="184.0" y2="97.2" stroke="rgb(114,114,114)" stroke-width="1.0"/>
<line x1="172.9" y1="94.9" x2="173.0" y2="95.8" stroke="rgb(170,170,170)" stroke-width="1.1"/>
<line x1="173.7" y1="81.8" x2="172.8" y2="81.9" stroke="rgb(89,89,89)" stroke-width="1.3"/>
<line x1="165.8" y1="106.5" x2="167.2" y2="106.6" stroke="rgb(147,147,147)" stroke-width="1.1"/>
<line x1="205.1" y1="75.7" x2="205.0" y2="76.5" stroke="rgb(136,136,136)" stroke-width="0.9"/>
<line x1="165.1" y1="112.1" x2="164.0" y2="112.9" stroke="rgb(127,127,127)" stroke-width="1.2"/>
<line x1="211.2" y1="104.5" x2="211.0" y2="105.4" stroke="rgb(149,149,149)" stroke-width="1.0"/>
<line x1="165.7" y1="83.3" x2="164.7" y2="84.6" stroke="rgb(167,167,167)" stroke-width="1.0"/>
<line x1="174.9" y1="87.7" x2="174.8" y2="88.7" stroke="rgb(144,144,144)" stroke-width="1.3"/>
<line x1="177.6" y1="73.4" x2="177.0" y2="74.8" stroke="rgb(116,116,116)" stroke-width="1.2"/>
<line x1="197.2" y1="100.1" x2="197.7" y2="100.5" stroke="rgb(170,170,170)" stroke-width="1.0"/>
</g>
<text class="r" x="161.5" y="28.2" font-size="9.6" text-anchor="start" fill="#fff" font-weight="bold" textLength="21.5" lengthAdjust="spacingAndGlyphs">60°C</text>
<text class="r" x="161.5" y="77.5" font-size="9.6" text-anchor="start" fill="#fff" font-weight="bold" textLength="21.5" lengthAdjust="spacingAndGlyphs">60°C</text>
<clipPath id="c3"><rect x="220.1" y="19.0" width="57.1" height="46.5"/></clipPath>
<rect x="220.1" y="19.0" width="57.1" height="46.5" fill="#050202"/>
<rect x="220.1" y="68.3" width="57.1" height="45.9" fill="#060606"/>
<g clip-path="url(#c3)">
<circle cx="274.3" cy="57.0" r="0.45" fill="#9a1400" opacity="0.62"/>
<circle cx="265.4" cy="52.2" r="0.45" fill="#9a1400" opacity="0.49"/>
<circle cx="275.6" cy="46.3" r="0.45" fill="#9a1400" opacity="0.44"/>
<circle cx="245.9" cy="44.2" r="0.45" fill="#9a1400" opacity="0.64"/>
<circle cx="243.6" cy="56.4" r="0.45" fill="#9a1400" opacity="0.61"/>
<circle cx="268.6" cy="54.1" r="0.45" fill="#9a1400" opacity="0.69"/>
<circle cx="233.7" cy="48.0" r="0.45" fill="#9a1400" opacity="0.65"/>
<circle cx="242.7" cy="52.4" r="0.45" fill="#9a1400" opacity="0.65"/>
<circle cx="238.5" cy="51.9" r="0.45" fill="#9a1400" opacity="0.90"/>
<circle cx="231.7" cy="48.4" r="0.45" fill="#9a1400" opacity="0.41"/>
<circle cx="225.5" cy="44.7" r="0.45" fill="#9a1400" opacity="0.61"/>
<circle cx="267.9" cy="53.1" r="0.45" fill="#9a1400" opacity="0.88"/>
<g filter="url(#net)" fill="none" stroke="#c03400" stroke-linecap="round">
<ellipse cx="226.7" cy="59.7" rx="3.9" ry="3.1" stroke-width="2.6" transform="rotate(0 226.7 59.7)"/>
<ellipse cx="236.9" cy="58.5" rx="5.0" ry="4.5" stroke-width="2.7" transform="rotate(0 236.9 58.5)"/>
<ellipse cx="247.3" cy="62.3" rx="3.1" ry="2.8" stroke-width="2.6" transform="rotate(0 247.3 62.3)"/>
<ellipse cx="256.0" cy="60.1" rx="6.2" ry="4.5" stroke-width="2.7" transform="rotate(-10 256.0 60.1)"/>
<ellipse cx="267.5" cy="59.1" rx="4.5" ry="3.1" stroke-width="2.6" transform="rotate(10 267.5 59.1)"/>
<ellipse cx="229.3" cy="64.2" rx="4.2" ry="1.4" stroke-width="2.3" transform="rotate(0 229.3 64.2)"/>
<ellipse cx="272.5" cy="63.7" rx="2.8" ry="1.7" stroke-width="2.3" transform="rotate(0 272.5 63.7)"/>
<ellipse cx="243.3" cy="64.4" rx="2.2" ry="1.1" stroke-width="2.2" transform="rotate(0 243.3 64.4)"/>
<ellipse cx="221.6" cy="61.6" rx="2.0" ry="2.5" stroke-width="2.4" transform="rotate(0 221.6 61.6)"/>
<ellipse cx="274.8" cy="59.1" rx="2.0" ry="2.2" stroke-width="2.3" transform="rotate(0 274.8 59.1)"/>
<ellipse cx="262.4" cy="64.4" rx="3.1" ry="1.3" stroke-width="2.2" transform="rotate(0 262.4 64.4)"/>
<circle cx="230.5" cy="55.0" r="1.0" fill="#c03400" stroke="none"/>
<circle cx="244.5" cy="55.5" r="1.0" fill="#c03400" stroke="none"/>
<circle cx="264.9" cy="54.3" r="1.0" fill="#c03400" stroke="none"/>
<circle cx="250.9" cy="57.8" r="1.0" fill="#c03400" stroke="none"/>
<line x1="237.5" y1="62.9" x2="244.5" y2="55.0" stroke="#c070ff" stroke-width="1.1"/>
<line x1="250.3" y1="59.1" x2="256.0" y2="54.3" stroke="#c070ff" stroke-width="1.1"/>
<line x1="233.1" y1="63.5" x2="239.5" y2="62.7" stroke="#c070ff" stroke-width="1.1"/>
</g>
</g>
<clipPath id="d3"><rect x="220.1" y="68.3" width="57.1" height="45.9"/></clipPath>
<g clip-path="url(#d3)" filter="url(#b2)" stroke-linecap="round">
<line x1="267.3" y1="94.8" x2="267.2" y2="95.2" stroke="rgb(134,134,134)" stroke-width="1.2"/>
<line x1="243.7" y1="110.8" x2="243.7" y2="112.0" stroke="rgb(98,98,98)" stroke-width="1.1"/>
<line x1="243.9" y1="73.2" x2="242.9" y2="74.4" stroke="rgb(161,161,161)" stroke-width="0.8"/>
<line x1="262.0" y1="89.4" x2="260.8" y2="90.4" stroke="rgb(123,123,123)" stroke-width="0.8"/>
<line x1="269.0" y1="97.8" x2="270.0" y2="99.1" stroke="rgb(145,145,145)" stroke-width="1.3"/>
<line x1="234.6" y1="94.3" x2="234.9" y2="95.0" stroke="rgb(162,162,162)" stroke-width="1.2"/>
<line x1="240.0" y1="93.0" x2="238.8" y2="93.3" stroke="rgb(157,157,157)" stroke-width="1.3"/>
<line x1="258.1" y1="88.0" x2="256.9" y2="88.4" stroke="rgb(159,159,159)" stroke-width="1.4"/>
<line x1="255.7" y1="89.8" x2="255.2" y2="90.8" stroke="rgb(122,122,122)" stroke-width="1.4"/>
<line x1="222.1" y1="83.3" x2="221.6" y2="83.5" stroke="rgb(116,116,116)" stroke-width="0.8"/>
<line x1="256.5" y1="104.1" x2="257.2" y2="104.8" stroke="rgb(113,113,113)" stroke-width="1.2"/>
<line x1="261.1" y1="111.9" x2="260.2" y2="112.7" stroke="rgb(103,103,103)" stroke-width="1.4"/>
<line x1="263.6" y1="110.7" x2="264.4" y2="111.5" stroke="rgb(134,134,134)" stroke-width="1.4"/>
<line x1="230.3" y1="88.6" x2="228.8" y2="89.4" stroke="rgb(121,121,121)" stroke-width="1.4"/>
<line x1="222.1" y1="80.3" x2="222.1" y2="82.0" stroke="rgb(105,105,105)" stroke-width="1.3"/>
<line x1="221.5" y1="105.4" x2="220.8" y2="106.6" stroke="rgb(126,126,126)" stroke-width="1.0"/>
<line x1="229.3" y1="74.6" x2="230.1" y2="75.7" stroke="rgb(159,159,159)" stroke-width="1.3"/>
<line x1="268.5" y1="89.1" x2="267.7" y2="89.9" stroke="rgb(100,100,100)" stroke-width="0.9"/>
<line x1="272.7" y1="104.7" x2="273.0" y2="105.0" stroke="rgb(118,118,118)" stroke-width="0.9"/>
<line x1="263.7" y1="102.5" x2="263.0" y2="104.0" stroke="rgb(126,126,126)" stroke-width="1.4"/>
<line x1="228.5" y1="77.0" x2="227.9" y2="77.8" stroke="rgb(103,103,103)" stroke-width="1.3"/>
<line x1="251.9" y1="81.0" x2="252.7" y2="81.8" stroke="rgb(102,102,102)" stroke-width="1.2"/>
<line x1="241.7" y1="75.8" x2="241.5" y2="76.1" stroke="rgb(100,100,100)" stroke-width="0.9"/>
<line x1="237.6" y1="69.0" x2="238.4" y2="70.2" stroke="rgb(144,144,144)" stroke-width="1.3"/>
<line x1="250.4" y1="88.6" x2="251.3" y2="88.9" stroke="rgb(108,108,108)" stroke-width="0.9"/>
<line x1="224.5" y1="102.2" x2="225.8" y2="102.5" stroke="rgb(95,95,95)" stroke-width="0.9"/>
<line x1="246.7" y1="71.5" x2="245.5" y2="71.7" stroke="rgb(99,99,99)" stroke-width="0.8"/>
<line x1="240.4" y1="79.5" x2="239.3" y2="80.4" stroke="rgb(143,143,143)" stroke-width="1.1"/>
<line x1="259.5" y1="74.5" x2="259.8" y2="75.3" stroke="rgb(121,121,121)" stroke-width="1.0"/>
<line x1="227.5" y1="88.1" x2="227.6" y2="88.8" stroke="rgb(166,166,166)" stroke-width="1.3"/>
<line x1="237.6" y1="96.5" x2="238.1" y2="96.7" stroke="rgb(93,93,93)" stroke-width="1.1"/>
<line x1="268.4" y1="80.4" x2="268.8" y2="80.8" stroke="rgb(149,149,149)" stroke-width="1.2"/>
<line x1="256.3" y1="91.6" x2="256.6" y2="91.9" stroke="rgb(133,133,133)" stroke-width="1.3"/>
<line x1="274.5" y1="83.8" x2="274.0" y2="84.9" stroke="rgb(95,95,95)" stroke-width="1.4"/>
<line x1="257.5" y1="82.4" x2="257.5" y2="83.2" stroke="rgb(142,142,142)" stroke-width="1.3"/>
<line x1="237.4" y1="107.1" x2="236.5" y2="107.9" stroke="rgb(163,163,163)" stroke-width="1.4"/>
<line x1="229.1" y1="109.0" x2="228.4" y2="110.5" stroke="rgb(137,137,137)" stroke-width="1.2"/>
<line x1="265.1" y1="80.8" x2="265.0" y2="81.9" stroke="rgb(112,112,112)" stroke-width="1.1"/>
<line x1="222.7" y1="112.5" x2="221.8" y2="113.5" stroke="rgb(96,96,96)" stroke-width="0.9"/>
<line x1="274.8" y1="78.6" x2="275.2" y2="79.5" stroke="rgb(158,158,158)" stroke-width="1.2"/>
<line x1="258.8" y1="88.8" x2="259.0" y2="89.7" stroke="rgb(113,113,113)" stroke-width="0.8"/>
<line x1="249.5" y1="94.0" x2="249.8" y2="95.8" stroke="rgb(137,137,137)" stroke-width="1.2"/>
<line x1="252.1" y1="96.6" x2="253.0" y2="97.5" stroke="rgb(149,149,149)" stroke-width="1.1"/>
<line x1="244.3" y1="79.8" x2="244.9" y2="80.7" stroke="rgb(142,142,142)" stroke-width="0.8"/>
<line x1="249.0" y1="91.1" x2="248.3" y2="92.4" stroke="rgb(92,92,92)" stroke-width="1.0"/>
<line x1="263.7" y1="107.8" x2="264.8" y2="108.8" stroke="rgb(141,141,141)" stroke-width="1.3"/>
<line x1="243.9" y1="72.4" x2="243.4" y2="72.9" stroke="rgb(111,111,111)" stroke-width="1.2"/>
<line x1="242.4" y1="109.4" x2="241.7" y2="109.9" stroke="rgb(93,93,93)" stroke-width="0.9"/>
<line x1="238.8" y1="88.0" x2="239.2" y2="88.2" stroke="rgb(126,126,126)" stroke-width="0.8"/>
<line x1="261.4" y1="96.4" x2="262.0" y2="97.2" stroke="rgb(114,114,114)" stroke-width="1.0"/>
<line x1="247.5" y1="75.7" x2="246.2" y2="76.9" stroke="rgb(129,129,129)" stroke-width="1.3"/>
<line x1="229.1" y1="100.3" x2="227.9" y2="101.1" stroke="rgb(93,93,93)" stroke-width="0.9"/>
<line x1="274.8" y1="98.2" x2="274.7" y2="99.5" stroke="rgb(97,97,97)" stroke-width="1.1"/>
<line x1="242.1" y1="96.3" x2="242.4" y2="96.7" stroke="rgb(140,140,140)" stroke-width="1.3"/>
<line x1="260.2" y1="82.1" x2="261.2" y2="83.0" stroke="rgb(123,123,123)" stroke-width="0.9"/>
<line x1="256.0" y1="93.5" x2="256.0" y2="94.4" stroke="rgb(133,133,133)" stroke-width="0.8"/>
<line x1="269.2" y1="94.1" x2="268.3" y2="95.0" stroke="rgb(134,134,134)" stroke-width="1.2"/>
<line x1="256.6" y1="90.5" x2="256.9" y2="91.8" stroke="rgb(161,161,161)" stroke-width="1.3"/>
<line x1="248.3" y1="70.7" x2="247.8" y2="71.1" stroke="rgb(145,145,145)" stroke-width="1.3"/>
<line x1="259.6" y1="81.9" x2="259.2" y2="82.4" stroke="rgb(141,141,141)" stroke-width="1.3"/>
<line x1="255.2" y1="106.0" x2="255.8" y2="106.9" stroke="rgb(108,108,108)" stroke-width="1.2"/>
<line x1="231.9" y1="82.7" x2="232.1" y2="83.2" stroke="rgb(129,129,129)" stroke-width="1.3"/>
<line x1="231.6" y1="75.4" x2="231.8" y2="76.1" stroke="rgb(132,132,132)" stroke-width="1.3"/>
<line x1="228.8" y1="73.1" x2="229.6" y2="73.9" stroke="rgb(119,119,119)" stroke-width="1.2"/>
<line x1="246.7" y1="108.0" x2="245.7" y2="108.9" stroke="rgb(156,156,156)" stroke-width="1.0"/>
<line x1="257.6" y1="111.7" x2="257.1" y2="112.2" stroke="rgb(114,114,114)" stroke-width="1.0"/>
<line x1="232.2" y1="88.1" x2="231.8" y2="88.3" stroke="rgb(167,167,167)" stroke-width="1.0"/>
<line x1="221.6" y1="108.5" x2="222.1" y2="109.1" stroke="rgb(99,99,99)" stroke-width="1.2"/>
</g>
<text class="r" x="223.1" y="28.2" font-size="9.6" text-anchor="start" fill="#fff" font-weight="bold" textLength="21.5" lengthAdjust="spacingAndGlyphs">80°C</text>
<text class="r" x="223.1" y="77.5" font-size="9.6" text-anchor="start" fill="#fff" font-weight="bold" textLength="21.5" lengthAdjust="spacingAndGlyphs">80°C</text>
<g stroke="#666" stroke-width="0.8" stroke-dasharray="1 1" fill="none">
<line x1="38" y1="281.2" x2="281.6" y2="281.2"/>
<line x1="38" y1="263.3" x2="281.6" y2="263.3"/>
<line x1="38" y1="245.3" x2="281.6" y2="245.3"/>
<line x1="38" y1="227.4" x2="281.6" y2="227.4"/>
<line x1="38" y1="209.5" x2="281.6" y2="209.5"/>
<line x1="38" y1="191.6" x2="281.6" y2="191.6"/>
<line x1="38" y1="173.6" x2="281.6" y2="173.6"/>
<line x1="38" y1="155.7" x2="281.6" y2="155.7"/>
<line x1="38" y1="137.8" x2="281.6" y2="137.8"/>
<line x1="55.5" y1="130" x2="55.5" y2="289.6"/>
<line x1="90.3" y1="130" x2="90.3" y2="289.6"/>
<line x1="125.1" y1="130" x2="125.1" y2="289.6"/>
<line x1="159.9" y1="130" x2="159.9" y2="289.6"/>
<line x1="194.7" y1="130" x2="194.7" y2="289.6"/>
<line x1="229.5" y1="130" x2="229.5" y2="289.6"/>
<line x1="264.2" y1="130" x2="264.2" y2="289.6"/>
</g>
<clipPath id="ci"><rect x="61.3" y="146.0" width="51.7" height="50.3"/></clipPath>
<rect x="61.3" y="146.0" width="51.7" height="50.3" fill="#070101"/>
<g clip-path="url(#ci)"><g filter="url(#b1)" fill="none" stroke-linecap="round" stroke-linejoin="round">
<circle cx="79.0" cy="157.2" r="0.6" fill="#a01000" stroke="none" opacity="0.8"/>
<circle cx="83.4" cy="147.9" r="0.6" fill="#a01000" stroke="none" opacity="0.8"/>
<circle cx="109.1" cy="157.0" r="0.6" fill="#a01000" stroke="none" opacity="0.8"/>
<circle cx="80.2" cy="157.4" r="0.6" fill="#a01000" stroke="none" opacity="0.8"/>
<circle cx="103.7" cy="146.9" r="0.6" fill="#a01000" stroke="none" opacity="0.8"/>
<circle cx="83.1" cy="159.7" r="0.6" fill="#a01000" stroke="none" opacity="0.8"/>
<circle cx="74.9" cy="150.0" r="0.6" fill="#a01000" stroke="none" opacity="0.8"/>
<circle cx="87.1" cy="166.1" r="0.6" fill="#a01000" stroke="none" opacity="0.8"/>
<circle cx="73.9" cy="151.7" r="0.6" fill="#a01000" stroke="none" opacity="0.8"/>
<circle cx="97.0" cy="151.2" r="0.6" fill="#a01000" stroke="none" opacity="0.8"/>
<circle cx="74.1" cy="151.4" r="0.6" fill="#a01000" stroke="none" opacity="0.8"/>
<circle cx="71.5" cy="157.5" r="0.6" fill="#a01000" stroke="none" opacity="0.8"/>
<circle cx="68.1" cy="161.0" r="0.6" fill="#a01000" stroke="none" opacity="0.8"/>
<circle cx="86.9" cy="164.9" r="0.6" fill="#a01000" stroke="none" opacity="0.8"/>
<circle cx="80.6" cy="147.3" r="0.6" fill="#a01000" stroke="none" opacity="0.8"/>
<circle cx="95.7" cy="151.1" r="0.6" fill="#a01000" stroke="none" opacity="0.8"/>
<circle cx="88.1" cy="156.5" r="0.6" fill="#a01000" stroke="none" opacity="0.8"/>
<circle cx="63.6" cy="153.6" r="0.6" fill="#a01000" stroke="none" opacity="0.8"/>
<circle cx="65.7" cy="153.7" r="0.6" fill="#a01000" stroke="none" opacity="0.8"/>
<circle cx="86.4" cy="157.3" r="0.6" fill="#a01000" stroke="none" opacity="0.8"/>
<circle cx="107.2" cy="167.0" r="0.6" fill="#a01000" stroke="none" opacity="0.8"/>
<circle cx="93.9" cy="157.4" r="0.6" fill="#a01000" stroke="none" opacity="0.8"/>
<path d="M60,177 C68,175 75,170 79,164 C82,159 86,156.5 92,157.5" stroke="#8a1800" stroke-width="8.6"/>
<path d="M92,158 C95,161 95,166 96,171 C96.5,176 97,179 97,183" stroke="#8a1800" stroke-width="5.2"/>
<path d="M60,186 C75,184 92,187 102,186 C107,185.5 111,186 114,185" stroke="#8a1800" stroke-width="8.1"/>
<path d="M64,178 L67,186" stroke="#8a1800" stroke-width="8.6"/>
<path d="M60,192 C66,190.5 70,192 74,197" stroke="#8a1800" stroke-width="5.6"/>
<path d="M74,197 C82,194 92,197.5 100,194.5 C106,192.5 110,196 114,195" stroke="#8a1800" stroke-width="5.6"/>
<path d="M104,170.5 L106,170" stroke="#8a1800" stroke-width="6.199999999999999"/>
<path d="M106,172 C108,177 110,181 113,183" stroke="#8a1800" stroke-width="4.2"/>
<path d="M60,177 C68,175 75,170 79,164 C82,159 86,156.5 92,157.5" stroke="#e85a00" stroke-width="7.0"/>
<path d="M92,158 C95,161 95,166 96,171 C96.5,176 97,179 97,183" stroke="#e85a00" stroke-width="3.6"/>
<path d="M60,186 C75,184 92,187 102,186 C107,185.5 111,186 114,185" stroke="#e85a00" stroke-width="6.5"/>
<path d="M64,178 L67,186" stroke="#e85a00" stroke-width="7.0"/>
<path d="M60,192 C66,190.5 70,192 74,197" stroke="#e85a00" stroke-width="4.0"/>
<path d="M74,197 C82,194 92,197.5 100,194.5 C106,192.5 110,196 114,195" stroke="#e85a00" stroke-width="4.0"/>
<path d="M104,170.5 L106,170" stroke="#e85a00" stroke-width="4.6"/>
<path d="M106,172 C108,177 110,181 113,183" stroke="#e85a00" stroke-width="2.6"/>
<path d="M60,177 C68,175 75,170 79,164 C82,159 86,156.5 92,157.5" stroke="#ffc23a" stroke-width="3.6"/>
<path d="M92,158 C95,161 95,166 96,171 C96.5,176 97,179 97,183" stroke="#ffc23a" stroke-width="0.7"/>
<path d="M60,186 C75,184 92,187 102,186 C107,185.5 111,186 114,185" stroke="#ffc23a" stroke-width="3.1"/>
<path d="M64,178 L67,186" stroke="#ffc23a" stroke-width="3.6"/>
<path d="M60,192 C66,190.5 70,192 74,197" stroke="#ffc23a" stroke-width="0.7"/>
<path d="M74,197 C82,194 92,197.5 100,194.5 C106,192.5 110,196 114,195" stroke="#ffc23a" stroke-width="0.7"/>
<path d="M104,170.5 L106,170" stroke="#ffc23a" stroke-width="1.2"/>
<path d="M106,172 C108,177 110,181 113,183" stroke="#ffc23a" stroke-width="0.7"/>
<circle cx="82.5" cy="159.5" r="1.1" fill="#d070ff" stroke="#fff" stroke-width="0.4"/>
<circle cx="91.5" cy="158.5" r="1.1" fill="#d070ff" stroke="#fff" stroke-width="0.4"/>
<circle cx="105" cy="170.5" r="1.1" fill="#d070ff" stroke="#fff" stroke-width="0.4"/>
<circle cx="97.5" cy="182" r="1.1" fill="#d070ff" stroke="#fff" stroke-width="0.4"/>
<circle cx="80" cy="194.5" r="1.1" fill="#d070ff" stroke="#fff" stroke-width="0.4"/>
<circle cx="88" cy="195.5" r="1.1" fill="#d070ff" stroke="#fff" stroke-width="0.4"/>
</g></g>
<path d="M38.3,262.3 Q159.95,214.24 281.6,142.6" fill="none" stroke="#ff2a2a" stroke-width="1"/>
<polyline fill="none" stroke="#111" stroke-width="0.8" points="55.5,255.4 90.3,234.2 125.1,241.4 159.9,204.5 194.7,177.6 229.5,173.6 264.2,151.8"/>
<path d="M55.5,245.3 V277.3 M53.1,245.3 h4.8 M53.1,277.3 h4.8" stroke="#222" stroke-width="0.7" fill="none"/>
<path d="M90.3,223.5 V241.4 M87.9,223.5 h4.8 M87.9,241.4 h4.8" stroke="#222" stroke-width="0.7" fill="none"/>
<path d="M125.1,227.4 V245.3 M122.7,227.4 h4.8 M122.7,245.3 h4.8" stroke="#222" stroke-width="0.7" fill="none"/>
<path d="M159.9,184.4 V227.4 M157.5,184.4 h4.8 M157.5,227.4 h4.8" stroke="#222" stroke-width="0.7" fill="none"/>
<path d="M194.7,166.5 V190.9 M192.3,166.5 h4.8 M192.3,190.9 h4.8" stroke="#222" stroke-width="0.7" fill="none"/>
<path d="M229.5,171.5 V179.4 M227.1,171.5 h4.8 M227.1,179.4 h4.8" stroke="#222" stroke-width="0.7" fill="none"/>
<path d="M264.2,150.0 V157.5 M261.8,150.0 h4.8 M261.8,157.5 h4.8" stroke="#222" stroke-width="0.7" fill="none"/>
<rect x="52.0" y="252.0" width="7" height="6.8" fill="#fff" stroke="#000" stroke-width="0.7"/>
<rect x="52.0" y="252.0" width="7" height="3.7" fill="#000"/>
<rect x="86.8" y="230.8" width="7" height="6.8" fill="#fff" stroke="#000" stroke-width="0.7"/>
<rect x="86.8" y="230.8" width="7" height="3.7" fill="#000"/>
<rect x="121.6" y="238.0" width="7" height="6.8" fill="#fff" stroke="#000" stroke-width="0.7"/>
<rect x="121.6" y="238.0" width="7" height="3.7" fill="#000"/>
<rect x="156.4" y="201.1" width="7" height="6.8" fill="#fff" stroke="#000" stroke-width="0.7"/>
<rect x="156.4" y="201.1" width="7" height="3.7" fill="#000"/>
<rect x="191.2" y="174.2" width="7" height="6.8" fill="#fff" stroke="#000" stroke-width="0.7"/>
<rect x="191.2" y="174.2" width="7" height="3.7" fill="#000"/>
<rect x="226.0" y="170.2" width="7" height="6.8" fill="#fff" stroke="#000" stroke-width="0.7"/>
<rect x="226.0" y="170.2" width="7" height="3.7" fill="#000"/>
<rect x="260.7" y="148.4" width="7" height="6.8" fill="#fff" stroke="#000" stroke-width="0.7"/>
<rect x="260.7" y="148.4" width="7" height="3.7" fill="#000"/>
<g stroke="#1cab50" stroke-width="1.9" fill="none" stroke-linecap="round">
<line x1="61.4" y1="188.7" x2="103.2" y2="141.4"/><line x1="61.4" y1="188.9" x2="121.3" y2="188.9"/>
<path d="M72.2,178.6 Q77.2,182 77.4,188.6" stroke-width="1.5"/>
</g>
<text class="r" x="84.0" y="180.7" font-size="10.3" text-anchor="start" fill="#19a84c" font-weight="bold" textLength="64.0" lengthAdjust="spacingAndGlyphs">Asperity angle</text>
<path d="M38.3,129.5 H281.6 V289.6" fill="none" stroke="#666" stroke-width="0.9"/>
<path d="M38.3,129.5 V289.6 H281.6" fill="none" stroke="#222" stroke-width="1"/>
<g stroke="#222" stroke-width="0.8">
<line x1="38.3" y1="281.2" x2="42.8" y2="281.2"/>
<line x1="38.3" y1="263.3" x2="42.8" y2="263.3"/>
<line x1="38.3" y1="245.3" x2="42.8" y2="245.3"/>
<line x1="38.3" y1="227.4" x2="42.8" y2="227.4"/>
<line x1="38.3" y1="209.5" x2="42.8" y2="209.5"/>
<line x1="38.3" y1="191.6" x2="42.8" y2="191.6"/>
<line x1="38.3" y1="173.6" x2="42.8" y2="173.6"/>
<line x1="38.3" y1="155.7" x2="42.8" y2="155.7"/>
<line x1="38.3" y1="137.8" x2="42.8" y2="137.8"/>
<line x1="38.3" y1="272.2" x2="40.8" y2="272.2"/>
<line x1="38.3" y1="254.3" x2="40.8" y2="254.3"/>
<line x1="38.3" y1="236.4" x2="40.8" y2="236.4"/>
<line x1="38.3" y1="218.5" x2="40.8" y2="218.5"/>
<line x1="38.3" y1="200.5" x2="40.8" y2="200.5"/>
<line x1="38.3" y1="182.6" x2="40.8" y2="182.6"/>
<line x1="38.3" y1="164.7" x2="40.8" y2="164.7"/>
<line x1="38.3" y1="146.8" x2="40.8" y2="146.8"/>
<line x1="55.5" y1="289.6" x2="55.5" y2="285.1"/>
<line x1="90.3" y1="289.6" x2="90.3" y2="285.1"/>
<line x1="125.1" y1="289.6" x2="125.1" y2="285.1"/>
<line x1="159.9" y1="289.6" x2="159.9" y2="285.1"/>
<line x1="194.7" y1="289.6" x2="194.7" y2="285.1"/>
<line x1="229.5" y1="289.6" x2="229.5" y2="285.1"/>
<line x1="264.2" y1="289.6" x2="264.2" y2="285.1"/>
<line x1="72.9" y1="289.6" x2="72.9" y2="287.1"/>
<line x1="107.7" y1="289.6" x2="107.7" y2="287.1"/>
<line x1="142.5" y1="289.6" x2="142.5" y2="287.1"/>
<line x1="177.3" y1="289.6" x2="177.3" y2="287.1"/>
<line x1="212.1" y1="289.6" x2="212.1" y2="287.1"/>
<line x1="246.8" y1="289.6" x2="246.8" y2="287.1"/>
<line x1="281.6" y1="289.6" x2="281.6" y2="287.1"/>
</g>
<text class="s" x="34.2" y="284.3" font-size="8.7" text-anchor="end" fill="#222" textLength="10.0" lengthAdjust="spacingAndGlyphs">35</text>
<text class="s" x="34.2" y="266.4" font-size="8.7" text-anchor="end" fill="#222" textLength="10.0" lengthAdjust="spacingAndGlyphs">40</text>
<text class="s" x="34.2" y="248.4" font-size="8.7" text-anchor="end" fill="#222" textLength="10.0" lengthAdjust="spacingAndGlyphs">45</text>
<text class="s" x="34.2" y="230.5" font-size="8.7" text-anchor="end" fill="#222" textLength="10.0" lengthAdjust="spacingAndGlyphs">50</text>
<text class="s" x="34.2" y="212.6" font-size="8.7" text-anchor="end" fill="#222" textLength="10.0" lengthAdjust="spacingAndGlyphs">55</text>
<text class="s" x="34.2" y="194.7" font-size="8.7" text-anchor="end" fill="#222" textLength="10.0" lengthAdjust="spacingAndGlyphs">60</text>
<text class="s" x="34.2" y="176.7" font-size="8.7" text-anchor="end" fill="#222" textLength="10.0" lengthAdjust="spacingAndGlyphs">65</text>
<text class="s" x="34.2" y="158.8" font-size="8.7" text-anchor="end" fill="#222" textLength="10.0" lengthAdjust="spacingAndGlyphs">70</text>
<text class="s" x="34.2" y="140.9" font-size="8.7" text-anchor="end" fill="#222" textLength="10.0" lengthAdjust="spacingAndGlyphs">75</text>
<text class="s" x="55.5" y="300.3" font-size="8.7" text-anchor="middle" fill="#222" textLength="10.0" lengthAdjust="spacingAndGlyphs">20</text>
<text class="s" x="90.3" y="300.3" font-size="8.7" text-anchor="middle" fill="#222" textLength="10.0" lengthAdjust="spacingAndGlyphs">30</text>
<text class="s" x="125.1" y="300.3" font-size="8.7" text-anchor="middle" fill="#222" textLength="10.0" lengthAdjust="spacingAndGlyphs">40</text>
<text class="s" x="159.9" y="300.3" font-size="8.7" text-anchor="middle" fill="#222" textLength="10.0" lengthAdjust="spacingAndGlyphs">50</text>
<text class="s" x="194.7" y="300.3" font-size="8.7" text-anchor="middle" fill="#222" textLength="10.0" lengthAdjust="spacingAndGlyphs">60</text>
<text class="s" x="229.5" y="300.3" font-size="8.7" text-anchor="middle" fill="#222" textLength="10.0" lengthAdjust="spacingAndGlyphs">70</text>
<text class="s" x="264.2" y="300.3" font-size="8.7" text-anchor="middle" fill="#222" textLength="10.0" lengthAdjust="spacingAndGlyphs">80</text>
<text class="s" x="85.0" y="316.0" font-size="10.2" text-anchor="start" fill="#111" textLength="150.5" lengthAdjust="spacingAndGlyphs">Heating temperature (Celsius)</text>
<text class="s" x="15.5" y="273.8" font-size="10.2" text-anchor="start" fill="#111" textLength="116.3" lengthAdjust="spacingAndGlyphs" transform="rotate(-90 15.5 273.8)">Angle of asperity (degree)</text>
<g stroke="#b8b8b8" stroke-width="0.7" fill="none">
<line x1="348.9" y1="16.5" x2="348.9" y2="138.8"/>
<line x1="364.4" y1="16.5" x2="364.4" y2="138.8"/>
<line x1="379.8" y1="16.5" x2="379.8" y2="138.8"/>
<line x1="395.3" y1="16.5" x2="395.3" y2="138.8"/>
<line x1="410.8" y1="16.5" x2="410.8" y2="138.8"/>
<line x1="426.3" y1="16.5" x2="426.3" y2="138.8"/>
<line x1="441.7" y1="16.5" x2="441.7" y2="138.8"/>
<line x1="457.2" y1="16.5" x2="457.2" y2="138.8"/>
<line x1="472.7" y1="16.5" x2="472.7" y2="138.8"/>
<line x1="488.2" y1="16.5" x2="488.2" y2="138.8"/>
<line x1="503.6" y1="16.5" x2="503.6" y2="138.8"/>
<line x1="519.1" y1="16.5" x2="519.1" y2="138.8"/>
</g><g stroke="#b0b0b0" stroke-width="0.7" stroke-dasharray="1.2 1" fill="none">
<line x1="333.4" y1="115.9" x2="534.6" y2="115.9"/>
<line x1="333.4" y1="93.1" x2="534.6" y2="93.1"/>
<line x1="333.4" y1="70.2" x2="534.6" y2="70.2"/>
<line x1="333.4" y1="47.4" x2="534.6" y2="47.4"/>
<line x1="333.4" y1="24.5" x2="534.6" y2="24.5"/>
</g>
<rect x="338.04" y="136.97" width="1.55" height="1.83" fill="#000000"/>
<rect x="339.59" y="137.66" width="1.55" height="1.14" fill="#0000ff"/>
<rect x="341.14" y="136.74" width="1.55" height="2.06" fill="#00ff00"/>
<rect x="342.69" y="138.23" width="1.55" height="0.57" fill="#ff0000"/>
<rect x="345.78" y="136.06" width="1.55" height="2.74" fill="#000000"/>
<rect x="347.33" y="137.09" width="1.55" height="1.71" fill="#0000ff"/>
<rect x="348.88" y="135.94" width="1.55" height="2.86" fill="#00ff00"/>
<rect x="350.43" y="137.66" width="1.55" height="1.14" fill="#ff0000"/>
<rect x="353.52" y="135.94" width="1.55" height="2.86" fill="#000000"/>
<rect x="355.07" y="137.09" width="1.55" height="1.71" fill="#0000ff"/>
<rect x="356.62" y="135.37" width="1.55" height="3.43" fill="#00ff00"/>
<rect x="358.17" y="137.66" width="1.55" height="1.14" fill="#ff0000"/>
<rect x="361.25" y="136.74" width="1.55" height="2.06" fill="#000000"/>
<rect x="362.80" y="136.51" width="1.55" height="2.29" fill="#0000ff"/>
<rect x="364.35" y="133.20" width="1.55" height="5.60" fill="#00ff00"/>
<rect x="365.90" y="137.43" width="1.55" height="1.37" fill="#ff0000"/>
<rect x="368.99" y="136.51" width="1.55" height="2.29" fill="#000000"/>
<rect x="370.54" y="135.94" width="1.55" height="2.86" fill="#0000ff"/>
<rect x="372.09" y="130.68" width="1.55" height="8.12" fill="#00ff00"/>
<rect x="373.64" y="136.51" width="1.55" height="2.29" fill="#ff0000"/>
<rect x="376.73" y="135.37" width="1.55" height="3.43" fill="#000000"/>
<rect x="378.28" y="134.80" width="1.55" height="4.00" fill="#0000ff"/>
<rect x="379.83" y="128.97" width="1.55" height="9.83" fill="#00ff00"/>
<rect x="381.38" y="133.66" width="1.55" height="5.14" fill="#ff0000"/>
<rect x="384.47" y="134.80" width="1.55" height="4.00" fill="#000000"/>
<rect x="386.02" y="134.23" width="1.55" height="4.57" fill="#0000ff"/>
<rect x="387.57" y="128.97" width="1.55" height="9.83" fill="#00ff00"/>
<rect x="389.12" y="130.91" width="1.55" height="7.89" fill="#ff0000"/>
<rect x="392.21" y="134.46" width="1.55" height="4.34" fill="#000000"/>
<rect x="393.76" y="134.46" width="1.55" height="4.34" fill="#0000ff"/>
<rect x="395.31" y="128.51" width="1.55" height="10.29" fill="#00ff00"/>
<rect x="396.86" y="128.63" width="1.55" height="10.17" fill="#ff0000"/>
<rect x="399.95" y="134.57" width="1.55" height="4.23" fill="#000000"/>
<rect x="401.50" y="134.57" width="1.55" height="4.23" fill="#0000ff"/>
<rect x="403.05" y="127.26" width="1.55" height="11.54" fill="#00ff00"/>
<rect x="404.60" y="124.51" width="1.55" height="14.29" fill="#ff0000"/>
<rect x="407.68" y="134.57" width="1.55" height="4.23" fill="#000000"/>
<rect x="409.23" y="134.57" width="1.55" height="4.23" fill="#0000ff"/>
<rect x="410.78" y="125.43" width="1.55" height="13.37" fill="#00ff00"/>
<rect x="412.33" y="122.91" width="1.55" height="15.89" fill="#ff0000"/>
<rect x="415.42" y="134.23" width="1.55" height="4.57" fill="#000000"/>
<rect x="416.97" y="135.37" width="1.55" height="3.43" fill="#0000ff"/>
<rect x="418.52" y="126.00" width="1.55" height="12.80" fill="#00ff00"/>
<rect x="420.07" y="121.08" width="1.55" height="17.72" fill="#ff0000"/>
<rect x="423.16" y="134.11" width="1.55" height="4.69" fill="#000000"/>
<rect x="424.71" y="133.09" width="1.55" height="5.71" fill="#0000ff"/>
<rect x="426.26" y="124.97" width="1.55" height="13.83" fill="#00ff00"/>
<rect x="427.81" y="119.60" width="1.55" height="19.20" fill="#ff0000"/>
<rect x="430.90" y="133.77" width="1.55" height="5.03" fill="#000000"/>
<rect x="432.45" y="130.00" width="1.55" height="8.80" fill="#0000ff"/>
<rect x="434.00" y="123.14" width="1.55" height="15.66" fill="#00ff00"/>
<rect x="435.55" y="117.31" width="1.55" height="21.49" fill="#ff0000"/>
<rect x="438.64" y="130.23" width="1.55" height="8.57" fill="#000000"/>
<rect x="440.19" y="126.91" width="1.55" height="11.89" fill="#0000ff"/>
<rect x="441.74" y="120.85" width="1.55" height="17.95" fill="#00ff00"/>
<rect x="443.29" y="116.85" width="1.55" height="21.95" fill="#ff0000"/>
<rect x="446.38" y="127.26" width="1.55" height="11.54" fill="#000000"/>
<rect x="447.93" y="124.17" width="1.55" height="14.63" fill="#0000ff"/>
<rect x="449.48" y="118.11" width="1.55" height="20.69" fill="#00ff00"/>
<rect x="451.03" y="115.83" width="1.55" height="22.97" fill="#ff0000"/>
<rect x="454.12" y="124.97" width="1.55" height="13.83" fill="#000000"/>
<rect x="455.67" y="122.68" width="1.55" height="16.12" fill="#0000ff"/>
<rect x="457.22" y="111.94" width="1.55" height="26.86" fill="#00ff00"/>
<rect x="458.77" y="109.54" width="1.55" height="29.26" fill="#ff0000"/>
<rect x="461.85" y="121.08" width="1.55" height="17.72" fill="#000000"/>
<rect x="463.40" y="120.40" width="1.55" height="18.40" fill="#0000ff"/>
<rect x="464.95" y="104.40" width="1.55" height="34.40" fill="#00ff00"/>
<rect x="466.50" y="105.42" width="1.55" height="33.38" fill="#ff0000"/>
<rect x="469.59" y="119.71" width="1.55" height="19.09" fill="#000000"/>
<rect x="471.14" y="118.45" width="1.55" height="20.35" fill="#0000ff"/>
<rect x="472.69" y="99.71" width="1.55" height="39.09" fill="#00ff00"/>
<rect x="474.24" y="102.91" width="1.55" height="35.89" fill="#ff0000"/>
<rect x="477.33" y="114.91" width="1.55" height="23.89" fill="#000000"/>
<rect x="478.88" y="113.77" width="1.55" height="25.03" fill="#0000ff"/>
<rect x="480.43" y="98.45" width="1.55" height="40.35" fill="#00ff00"/>
<rect x="481.98" y="98.45" width="1.55" height="40.35" fill="#ff0000"/>
<rect x="485.07" y="112.05" width="1.55" height="26.75" fill="#000000"/>
<rect x="486.62" y="109.08" width="1.55" height="29.72" fill="#0000ff"/>
<rect x="488.17" y="94.57" width="1.55" height="44.23" fill="#00ff00"/>
<rect x="489.72" y="94.57" width="1.55" height="44.23" fill="#ff0000"/>
<rect x="492.81" y="109.08" width="1.55" height="29.72" fill="#000000"/>
<rect x="494.36" y="105.08" width="1.55" height="33.72" fill="#0000ff"/>
<rect x="495.91" y="90.34" width="1.55" height="48.46" fill="#00ff00"/>
<rect x="497.46" y="81.88" width="1.55" height="56.92" fill="#ff0000"/>
<rect x="500.55" y="105.77" width="1.55" height="33.03" fill="#000000"/>
<rect x="502.10" y="99.25" width="1.55" height="39.55" fill="#0000ff"/>
<rect x="503.65" y="89.65" width="1.55" height="49.15" fill="#00ff00"/>
<rect x="505.20" y="73.65" width="1.55" height="65.15" fill="#ff0000"/>
<rect x="508.28" y="102.45" width="1.55" height="36.35" fill="#000000"/>
<rect x="509.83" y="95.02" width="1.55" height="43.78" fill="#0000ff"/>
<rect x="511.38" y="80.85" width="1.55" height="57.95" fill="#00ff00"/>
<rect x="512.93" y="61.53" width="1.55" height="77.27" fill="#ff0000"/>
<rect x="516.02" y="98.11" width="1.55" height="40.69" fill="#000000"/>
<rect x="517.57" y="93.65" width="1.55" height="45.15" fill="#0000ff"/>
<rect x="519.12" y="77.19" width="1.55" height="61.61" fill="#00ff00"/>
<rect x="520.67" y="46.79" width="1.55" height="92.01" fill="#ff0000"/>
<rect x="523.76" y="93.65" width="1.55" height="45.15" fill="#000000"/>
<rect x="525.31" y="86.68" width="1.55" height="52.12" fill="#0000ff"/>
<rect x="526.86" y="72.51" width="1.55" height="66.29" fill="#00ff00"/>
<rect x="528.41" y="25.19" width="1.55" height="113.61" fill="#ff0000"/>
<rect x="333.4" y="16.5" width="201.2" height="122.3" fill="none" stroke="#333" stroke-width="0.9"/>
<g stroke="#333" stroke-width="0.7">
<line x1="333.4" y1="138.8" x2="336.4" y2="138.8"/>
<line x1="333.4" y1="115.9" x2="336.4" y2="115.9"/>
<line x1="333.4" y1="93.1" x2="336.4" y2="93.1"/>
<line x1="333.4" y1="70.2" x2="336.4" y2="70.2"/>
<line x1="333.4" y1="47.4" x2="336.4" y2="47.4"/>
<line x1="333.4" y1="24.5" x2="336.4" y2="24.5"/>
<line x1="333.4" y1="127.4" x2="335.2" y2="127.4"/>
<line x1="333.4" y1="104.5" x2="335.2" y2="104.5"/>
<line x1="333.4" y1="81.7" x2="335.2" y2="81.7"/>
<line x1="333.4" y1="58.8" x2="335.2" y2="58.8"/>
<line x1="333.4" y1="35.9" x2="335.2" y2="35.9"/>
</g>
<text class="s" x="329.8" y="142.3" font-size="7.4" text-anchor="end" fill="#222" textLength="11.1" lengthAdjust="spacingAndGlyphs" stroke="#222" stroke-width="0.22">0.0</text>
<text class="s" x="329.8" y="119.4" font-size="7.4" text-anchor="end" fill="#222" textLength="11.1" lengthAdjust="spacingAndGlyphs" stroke="#222" stroke-width="0.22">0.2</text>
<text class="s" x="329.8" y="96.6" font-size="7.4" text-anchor="end" fill="#222" textLength="11.1" lengthAdjust="spacingAndGlyphs" stroke="#222" stroke-width="0.22">0.4</text>
<text class="s" x="329.8" y="73.7" font-size="7.4" text-anchor="end" fill="#222" textLength="11.1" lengthAdjust="spacingAndGlyphs" stroke="#222" stroke-width="0.22">0.6</text>
<text class="s" x="329.8" y="50.9" font-size="7.4" text-anchor="end" fill="#222" textLength="11.1" lengthAdjust="spacingAndGlyphs" stroke="#222" stroke-width="0.22">0.8</text>
<text class="s" x="329.8" y="28.0" font-size="7.4" text-anchor="end" fill="#222" textLength="11.1" lengthAdjust="spacingAndGlyphs" stroke="#222" stroke-width="0.22">1.0</text>
<text class="s" x="333.4" y="147.4" font-size="7.4" text-anchor="middle" fill="#222" textLength="4.8" lengthAdjust="spacingAndGlyphs" stroke="#222" stroke-width="0.22">0</text>
<text class="s" x="348.9" y="147.4" font-size="7.4" text-anchor="middle" fill="#222" textLength="4.8" lengthAdjust="spacingAndGlyphs" stroke="#222" stroke-width="0.22">2</text>
<text class="s" x="364.4" y="147.4" font-size="7.4" text-anchor="middle" fill="#222" textLength="4.8" lengthAdjust="spacingAndGlyphs" stroke="#222" stroke-width="0.22">4</text>
<text class="s" x="379.8" y="147.4" font-size="7.4" text-anchor="middle" fill="#222" textLength="4.8" lengthAdjust="spacingAndGlyphs" stroke="#222" stroke-width="0.22">6</text>
<text class="s" x="395.3" y="147.4" font-size="7.4" text-anchor="middle" fill="#222" textLength="4.8" lengthAdjust="spacingAndGlyphs" stroke="#222" stroke-width="0.22">8</text>
<text class="s" x="410.8" y="147.4" font-size="7.4" text-anchor="middle" fill="#222" textLength="9.5" lengthAdjust="spacingAndGlyphs" stroke="#222" stroke-width="0.22">10</text>
<text class="s" x="426.3" y="147.4" font-size="7.4" text-anchor="middle" fill="#222" textLength="9.5" lengthAdjust="spacingAndGlyphs" stroke="#222" stroke-width="0.22">12</text>
<text class="s" x="441.7" y="147.4" font-size="7.4" text-anchor="middle" fill="#222" textLength="9.5" lengthAdjust="spacingAndGlyphs" stroke="#222" stroke-width="0.22">14</text>
<text class="s" x="457.2" y="147.4" font-size="7.4" text-anchor="middle" fill="#222" textLength="9.5" lengthAdjust="spacingAndGlyphs" stroke="#222" stroke-width="0.22">16</text>
<text class="s" x="472.7" y="147.4" font-size="7.4" text-anchor="middle" fill="#222" textLength="9.5" lengthAdjust="spacingAndGlyphs" stroke="#222" stroke-width="0.22">18</text>
<text class="s" x="488.2" y="147.4" font-size="7.4" text-anchor="middle" fill="#222" textLength="9.5" lengthAdjust="spacingAndGlyphs" stroke="#222" stroke-width="0.22">20</text>
<text class="s" x="503.6" y="147.4" font-size="7.4" text-anchor="middle" fill="#222" textLength="9.5" lengthAdjust="spacingAndGlyphs" stroke="#222" stroke-width="0.22">22</text>
<text class="s" x="519.1" y="147.4" font-size="7.4" text-anchor="middle" fill="#222" textLength="9.5" lengthAdjust="spacingAndGlyphs" stroke="#222" stroke-width="0.22">24</text>
<text class="s" x="534.6" y="147.4" font-size="7.4" text-anchor="middle" fill="#222" textLength="9.5" lengthAdjust="spacingAndGlyphs" stroke="#222" stroke-width="0.22">26</text>
<text class="s" x="314.3" y="133.8" font-size="8.3" text-anchor="start" fill="#111" textLength="101.5" lengthAdjust="spacingAndGlyphs" transform="rotate(-90 314.3 133.8)" stroke="#222" stroke-width="0.22">Total object perimeter (mm)</text>
<text class="s" x="336.6" y="160.5" font-size="8.5" text-anchor="start" fill="#111" textLength="194.0" lengthAdjust="spacingAndGlyphs" stroke="#222" stroke-width="0.22">Layer number of micro-CT (1 layer : 0.9 um)</text>
<rect x="338.5" y="21.4" width="20.4" height="5.6" fill="#000000"/>
<text class="s" x="361.5" y="26.4" font-size="6.3" text-anchor="start" fill="#222" textLength="74.6" lengthAdjust="spacingAndGlyphs" stroke="#222" stroke-width="0.2">Pad temperature : 20</text>
<text class="s" x="439.4" y="26.4" font-size="6.1" text-anchor="start" fill="#222" stroke="#222" stroke-width="0.25" style="font-family:'Liberation Sans','Noto Sans CJK KR',sans-serif">℃</text>
<rect x="338.5" y="29.5" width="20.4" height="5.6" fill="#0000ff"/>
<text class="s" x="361.5" y="34.5" font-size="6.3" text-anchor="start" fill="#222" textLength="74.6" lengthAdjust="spacingAndGlyphs" stroke="#222" stroke-width="0.2">Pad temperature : 40</text>
<text class="s" x="439.4" y="34.5" font-size="6.1" text-anchor="start" fill="#222" stroke="#222" stroke-width="0.25" style="font-family:'Liberation Sans','Noto Sans CJK KR',sans-serif">℃</text>
<rect x="338.5" y="37.7" width="20.4" height="5.6" fill="#00ff00"/>
<text class="s" x="361.5" y="42.7" font-size="6.3" text-anchor="start" fill="#222" textLength="74.6" lengthAdjust="spacingAndGlyphs" stroke="#222" stroke-width="0.2">Pad temperature : 60</text>
<text class="s" x="439.4" y="42.7" font-size="6.1" text-anchor="start" fill="#222" stroke="#222" stroke-width="0.25" style="font-family:'Liberation Sans','Noto Sans CJK KR',sans-serif">℃</text>
<rect x="338.5" y="45.9" width="20.4" height="5.6" fill="#ff0000"/>
<text class="s" x="361.5" y="50.9" font-size="6.3" text-anchor="start" fill="#222" textLength="74.6" lengthAdjust="spacingAndGlyphs" stroke="#222" stroke-width="0.2">Pad temperature : 80</text>
<text class="s" x="439.4" y="50.9" font-size="6.1" text-anchor="start" fill="#222" stroke="#222" stroke-width="0.25" style="font-family:'Liberation Sans','Noto Sans CJK KR',sans-serif">℃</text>
<g stroke="#b8b8b8" stroke-width="0.7" fill="none">
<line x1="348.6" y1="169.4" x2="348.6" y2="293.4"/>
<line x1="364.2" y1="169.4" x2="364.2" y2="293.4"/>
<line x1="379.9" y1="169.4" x2="379.9" y2="293.4"/>
<line x1="395.6" y1="169.4" x2="395.6" y2="293.4"/>
<line x1="411.2" y1="169.4" x2="411.2" y2="293.4"/>
<line x1="426.9" y1="169.4" x2="426.9" y2="293.4"/>
<line x1="442.6" y1="169.4" x2="442.6" y2="293.4"/>
<line x1="458.3" y1="169.4" x2="458.3" y2="293.4"/>
<line x1="473.9" y1="169.4" x2="473.9" y2="293.4"/>
<line x1="489.6" y1="169.4" x2="489.6" y2="293.4"/>
<line x1="505.3" y1="169.4" x2="505.3" y2="293.4"/>
<line x1="520.9" y1="169.4" x2="520.9" y2="293.4"/>
</g><g stroke="#b0b0b0" stroke-width="0.7" stroke-dasharray="1.2 1" fill="none">
<line x1="332.9" y1="274.1" x2="536.6" y2="274.1"/>
<line x1="332.9" y1="254.9" x2="536.6" y2="254.9"/>
<line x1="332.9" y1="235.6" x2="536.6" y2="235.6"/>
<line x1="332.9" y1="216.3" x2="536.6" y2="216.3"/>
<line x1="332.9" y1="197.1" x2="536.6" y2="197.1"/>
<line x1="332.9" y1="177.8" x2="536.6" y2="177.8"/>
</g>
<rect x="337.63" y="287.62" width="1.55" height="5.78" fill="#000000"/>
<rect x="339.18" y="285.46" width="1.55" height="7.94" fill="#0000ff"/>
<rect x="340.73" y="267.20" width="1.55" height="26.20" fill="#00ff00"/>
<rect x="342.28" y="282.23" width="1.55" height="11.17" fill="#ff0000"/>
<rect x="345.47" y="288.39" width="1.55" height="5.01" fill="#000000"/>
<rect x="347.02" y="284.27" width="1.55" height="9.13" fill="#0000ff"/>
<rect x="348.57" y="261.81" width="1.55" height="31.59" fill="#00ff00"/>
<rect x="350.12" y="280.69" width="1.55" height="12.71" fill="#ff0000"/>
<rect x="353.30" y="286.85" width="1.55" height="6.55" fill="#000000"/>
<rect x="354.85" y="283.54" width="1.55" height="9.86" fill="#0000ff"/>
<rect x="356.40" y="260.46" width="1.55" height="32.94" fill="#00ff00"/>
<rect x="357.95" y="278.76" width="1.55" height="14.64" fill="#ff0000"/>
<rect x="361.14" y="286.85" width="1.55" height="6.55" fill="#000000"/>
<rect x="362.69" y="284.54" width="1.55" height="8.86" fill="#0000ff"/>
<rect x="364.24" y="258.53" width="1.55" height="34.87" fill="#00ff00"/>
<rect x="365.79" y="278.10" width="1.55" height="15.30" fill="#ff0000"/>
<rect x="368.97" y="286.85" width="1.55" height="6.55" fill="#000000"/>
<rect x="370.52" y="282.61" width="1.55" height="10.79" fill="#0000ff"/>
<rect x="372.07" y="256.64" width="1.55" height="36.76" fill="#00ff00"/>
<rect x="373.62" y="275.02" width="1.55" height="18.38" fill="#ff0000"/>
<rect x="376.81" y="286.85" width="1.55" height="6.55" fill="#000000"/>
<rect x="378.36" y="281.46" width="1.55" height="11.94" fill="#0000ff"/>
<rect x="379.91" y="251.40" width="1.55" height="42.00" fill="#00ff00"/>
<rect x="381.46" y="272.59" width="1.55" height="20.81" fill="#ff0000"/>
<rect x="384.64" y="285.31" width="1.55" height="8.09" fill="#000000"/>
<rect x="386.19" y="280.69" width="1.55" height="12.71" fill="#0000ff"/>
<rect x="387.74" y="243.70" width="1.55" height="49.70" fill="#00ff00"/>
<rect x="389.29" y="267.82" width="1.55" height="25.58" fill="#ff0000"/>
<rect x="392.48" y="282.07" width="1.55" height="11.33" fill="#000000"/>
<rect x="394.03" y="278.84" width="1.55" height="14.56" fill="#0000ff"/>
<rect x="395.58" y="239.27" width="1.55" height="54.13" fill="#00ff00"/>
<rect x="397.13" y="266.20" width="1.55" height="27.20" fill="#ff0000"/>
<rect x="400.31" y="282.07" width="1.55" height="11.33" fill="#000000"/>
<rect x="401.86" y="278.76" width="1.55" height="14.64" fill="#0000ff"/>
<rect x="403.41" y="231.75" width="1.55" height="61.65" fill="#00ff00"/>
<rect x="404.96" y="261.50" width="1.55" height="31.90" fill="#ff0000"/>
<rect x="408.15" y="279.91" width="1.55" height="13.49" fill="#000000"/>
<rect x="409.70" y="275.75" width="1.55" height="17.65" fill="#0000ff"/>
<rect x="411.25" y="230.36" width="1.55" height="63.04" fill="#00ff00"/>
<rect x="412.80" y="257.57" width="1.55" height="35.83" fill="#ff0000"/>
<rect x="415.98" y="279.14" width="1.55" height="14.26" fill="#000000"/>
<rect x="417.53" y="274.29" width="1.55" height="19.11" fill="#0000ff"/>
<rect x="419.08" y="228.17" width="1.55" height="65.23" fill="#00ff00"/>
<rect x="420.63" y="257.80" width="1.55" height="35.60" fill="#ff0000"/>
<rect x="423.82" y="276.49" width="1.55" height="16.91" fill="#000000"/>
<rect x="425.37" y="271.82" width="1.55" height="21.58" fill="#0000ff"/>
<rect x="426.92" y="222.62" width="1.55" height="70.78" fill="#00ff00"/>
<rect x="428.47" y="251.71" width="1.55" height="41.69" fill="#ff0000"/>
<rect x="431.65" y="273.25" width="1.55" height="20.15" fill="#000000"/>
<rect x="433.20" y="271.82" width="1.55" height="21.58" fill="#0000ff"/>
<rect x="434.75" y="217.65" width="1.55" height="75.75" fill="#00ff00"/>
<rect x="436.30" y="249.09" width="1.55" height="44.31" fill="#ff0000"/>
<rect x="439.48" y="270.74" width="1.55" height="22.66" fill="#000000"/>
<rect x="441.03" y="270.74" width="1.55" height="22.66" fill="#0000ff"/>
<rect x="442.58" y="210.18" width="1.55" height="83.22" fill="#00ff00"/>
<rect x="444.13" y="245.39" width="1.55" height="48.01" fill="#ff0000"/>
<rect x="447.32" y="266.35" width="1.55" height="27.05" fill="#000000"/>
<rect x="448.87" y="268.86" width="1.55" height="24.54" fill="#0000ff"/>
<rect x="450.42" y="206.71" width="1.55" height="86.69" fill="#00ff00"/>
<rect x="451.97" y="238.07" width="1.55" height="55.33" fill="#ff0000"/>
<rect x="455.15" y="262.96" width="1.55" height="30.44" fill="#000000"/>
<rect x="456.70" y="266.35" width="1.55" height="27.05" fill="#0000ff"/>
<rect x="458.25" y="200.54" width="1.55" height="92.86" fill="#00ff00"/>
<rect x="459.80" y="239.84" width="1.55" height="53.56" fill="#ff0000"/>
<rect x="462.99" y="256.80" width="1.55" height="36.60" fill="#000000"/>
<rect x="464.54" y="264.12" width="1.55" height="29.28" fill="#0000ff"/>
<rect x="466.09" y="196.92" width="1.55" height="96.48" fill="#00ff00"/>
<rect x="467.64" y="232.91" width="1.55" height="60.49" fill="#ff0000"/>
<rect x="470.82" y="255.26" width="1.55" height="38.14" fill="#000000"/>
<rect x="472.37" y="261.50" width="1.55" height="31.90" fill="#0000ff"/>
<rect x="473.92" y="199.00" width="1.55" height="94.40" fill="#00ff00"/>
<rect x="475.47" y="234.06" width="1.55" height="59.34" fill="#ff0000"/>
<rect x="478.66" y="249.86" width="1.55" height="43.54" fill="#000000"/>
<rect x="480.21" y="261.03" width="1.55" height="32.37" fill="#0000ff"/>
<rect x="481.76" y="191.68" width="1.55" height="101.72" fill="#00ff00"/>
<rect x="483.31" y="231.10" width="1.55" height="62.30" fill="#ff0000"/>
<rect x="486.49" y="246.01" width="1.55" height="47.39" fill="#000000"/>
<rect x="488.04" y="249.86" width="1.55" height="43.54" fill="#0000ff"/>
<rect x="489.59" y="187.13" width="1.55" height="106.27" fill="#00ff00"/>
<rect x="491.14" y="221.58" width="1.55" height="71.82" fill="#ff0000"/>
<rect x="494.33" y="236.18" width="1.55" height="57.22" fill="#000000"/>
<rect x="495.88" y="244.93" width="1.55" height="48.47" fill="#0000ff"/>
<rect x="497.43" y="186.40" width="1.55" height="107.00" fill="#00ff00"/>
<rect x="498.98" y="216.76" width="1.55" height="76.64" fill="#ff0000"/>
<rect x="502.16" y="222.12" width="1.55" height="71.28" fill="#000000"/>
<rect x="503.71" y="243.31" width="1.55" height="50.09" fill="#0000ff"/>
<rect x="505.26" y="191.68" width="1.55" height="101.72" fill="#00ff00"/>
<rect x="506.81" y="214.80" width="1.55" height="78.60" fill="#ff0000"/>
<rect x="510.00" y="214.80" width="1.55" height="78.60" fill="#000000"/>
<rect x="511.55" y="233.68" width="1.55" height="59.72" fill="#0000ff"/>
<rect x="513.10" y="182.93" width="1.55" height="110.47" fill="#00ff00"/>
<rect x="514.65" y="208.40" width="1.55" height="85.00" fill="#ff0000"/>
<rect x="517.83" y="209.10" width="1.55" height="84.30" fill="#000000"/>
<rect x="519.38" y="228.17" width="1.55" height="65.23" fill="#0000ff"/>
<rect x="520.93" y="178.58" width="1.55" height="114.82" fill="#00ff00"/>
<rect x="522.48" y="197.07" width="1.55" height="96.32" fill="#ff0000"/>
<rect x="525.67" y="203.36" width="1.55" height="90.04" fill="#000000"/>
<rect x="527.22" y="224.05" width="1.55" height="69.35" fill="#0000ff"/>
<rect x="528.77" y="182.93" width="1.55" height="110.47" fill="#00ff00"/>
<rect x="530.32" y="194.15" width="1.55" height="99.25" fill="#ff0000"/>
<rect x="332.9" y="169.4" width="203.7" height="124.0" fill="none" stroke="#333" stroke-width="0.9"/>
<g stroke="#333" stroke-width="0.7">
<line x1="332.9" y1="293.4" x2="335.9" y2="293.4"/>
<line x1="332.9" y1="274.1" x2="335.9" y2="274.1"/>
<line x1="332.9" y1="254.9" x2="335.9" y2="254.9"/>
<line x1="332.9" y1="235.6" x2="335.9" y2="235.6"/>
<line x1="332.9" y1="216.3" x2="335.9" y2="216.3"/>
<line x1="332.9" y1="197.1" x2="335.9" y2="197.1"/>
<line x1="332.9" y1="177.8" x2="335.9" y2="177.8"/>
<line x1="332.9" y1="283.8" x2="334.7" y2="283.8"/>
<line x1="332.9" y1="264.5" x2="334.7" y2="264.5"/>
<line x1="332.9" y1="245.2" x2="334.7" y2="245.2"/>
<line x1="332.9" y1="226.0" x2="334.7" y2="226.0"/>
<line x1="332.9" y1="206.7" x2="334.7" y2="206.7"/>
<line x1="332.9" y1="187.4" x2="334.7" y2="187.4"/>
</g>
<text class="s" x="329.3" y="295.9" font-size="7.4" text-anchor="end" fill="#222" textLength="4.8" lengthAdjust="spacingAndGlyphs" stroke="#222" stroke-width="0.22">0</text>
<text class="s" x="329.3" y="276.6" font-size="7.4" text-anchor="end" fill="#222" textLength="9.5" lengthAdjust="spacingAndGlyphs" stroke="#222" stroke-width="0.22">50</text>
<text class="s" x="329.3" y="257.4" font-size="7.4" text-anchor="end" fill="#222" textLength="14.2" lengthAdjust="spacingAndGlyphs" stroke="#222" stroke-width="0.22">100</text>
<text class="s" x="329.3" y="238.1" font-size="7.4" text-anchor="end" fill="#222" textLength="14.2" lengthAdjust="spacingAndGlyphs" stroke="#222" stroke-width="0.22">150</text>
<text class="s" x="329.3" y="218.8" font-size="7.4" text-anchor="end" fill="#222" textLength="14.2" lengthAdjust="spacingAndGlyphs" stroke="#222" stroke-width="0.22">200</text>
<text class="s" x="329.3" y="199.6" font-size="7.4" text-anchor="end" fill="#222" textLength="14.2" lengthAdjust="spacingAndGlyphs" stroke="#222" stroke-width="0.22">250</text>
<text class="s" x="329.3" y="180.3" font-size="7.4" text-anchor="end" fill="#222" textLength="14.2" lengthAdjust="spacingAndGlyphs" stroke="#222" stroke-width="0.22">300</text>
<text class="s" x="332.9" y="302.1" font-size="7.4" text-anchor="middle" fill="#222" textLength="4.8" lengthAdjust="spacingAndGlyphs" stroke="#222" stroke-width="0.22">0</text>
<text class="s" x="348.6" y="302.1" font-size="7.4" text-anchor="middle" fill="#222" textLength="4.8" lengthAdjust="spacingAndGlyphs" stroke="#222" stroke-width="0.22">2</text>
<text class="s" x="364.2" y="302.1" font-size="7.4" text-anchor="middle" fill="#222" textLength="4.8" lengthAdjust="spacingAndGlyphs" stroke="#222" stroke-width="0.22">4</text>
<text class="s" x="379.9" y="302.1" font-size="7.4" text-anchor="middle" fill="#222" textLength="4.8" lengthAdjust="spacingAndGlyphs" stroke="#222" stroke-width="0.22">6</text>
<text class="s" x="395.6" y="302.1" font-size="7.4" text-anchor="middle" fill="#222" textLength="4.8" lengthAdjust="spacingAndGlyphs" stroke="#222" stroke-width="0.22">8</text>
<text class="s" x="411.2" y="302.1" font-size="7.4" text-anchor="middle" fill="#222" textLength="9.5" lengthAdjust="spacingAndGlyphs" stroke="#222" stroke-width="0.22">10</text>
<text class="s" x="426.9" y="302.1" font-size="7.4" text-anchor="middle" fill="#222" textLength="9.5" lengthAdjust="spacingAndGlyphs" stroke="#222" stroke-width="0.22">12</text>
<text class="s" x="442.6" y="302.1" font-size="7.4" text-anchor="middle" fill="#222" textLength="9.5" lengthAdjust="spacingAndGlyphs" stroke="#222" stroke-width="0.22">14</text>
<text class="s" x="458.3" y="302.1" font-size="7.4" text-anchor="middle" fill="#222" textLength="9.5" lengthAdjust="spacingAndGlyphs" stroke="#222" stroke-width="0.22">16</text>
<text class="s" x="473.9" y="302.1" font-size="7.4" text-anchor="middle" fill="#222" textLength="9.5" lengthAdjust="spacingAndGlyphs" stroke="#222" stroke-width="0.22">18</text>
<text class="s" x="489.6" y="302.1" font-size="7.4" text-anchor="middle" fill="#222" textLength="9.5" lengthAdjust="spacingAndGlyphs" stroke="#222" stroke-width="0.22">20</text>
<text class="s" x="505.3" y="302.1" font-size="7.4" text-anchor="middle" fill="#222" textLength="9.5" lengthAdjust="spacingAndGlyphs" stroke="#222" stroke-width="0.22">22</text>
<text class="s" x="520.9" y="302.1" font-size="7.4" text-anchor="middle" fill="#222" textLength="9.5" lengthAdjust="spacingAndGlyphs" stroke="#222" stroke-width="0.22">24</text>
<text class="s" x="536.6" y="302.1" font-size="7.4" text-anchor="middle" fill="#222" textLength="9.5" lengthAdjust="spacingAndGlyphs" stroke="#222" stroke-width="0.22">26</text>
<text class="s" x="309.0" y="278.3" font-size="8.3" text-anchor="start" fill="#111" textLength="82.1" lengthAdjust="spacingAndGlyphs" transform="rotate(-90 309.0 278.3)" stroke="#222" stroke-width="0.22">Total number of object</text>
<text class="s" x="336.6" y="315.7" font-size="8.5" text-anchor="start" fill="#111" textLength="196.2" lengthAdjust="spacingAndGlyphs" stroke="#222" stroke-width="0.22">Layer number of micro-CT (1 layer : 0.9 um)</text>
<rect x="337.0" y="173.3" width="20.4" height="5.6" fill="#000000"/>
<text class="s" x="360.0" y="178.3" font-size="6.3" text-anchor="start" fill="#222" textLength="74.6" lengthAdjust="spacingAndGlyphs" stroke="#222" stroke-width="0.2">Pad temperature : 20</text>
<text class="s" x="437.9" y="178.3" font-size="6.1" text-anchor="start" fill="#222" stroke="#222" stroke-width="0.25" style="font-family:'Liberation Sans','Noto Sans CJK KR',sans-serif">℃</text>
<rect x="337.0" y="181.5" width="20.4" height="5.6" fill="#0000ff"/>
<text class="s" x="360.0" y="186.5" font-size="6.3" text-anchor="start" fill="#222" textLength="74.6" lengthAdjust="spacingAndGlyphs" stroke="#222" stroke-width="0.2">Pad temperature : 40</text>
<text class="s" x="437.9" y="186.5" font-size="6.1" text-anchor="start" fill="#222" stroke="#222" stroke-width="0.25" style="font-family:'Liberation Sans','Noto Sans CJK KR',sans-serif">℃</text>
<rect x="337.0" y="189.6" width="20.4" height="5.6" fill="#00ff00"/>
<text class="s" x="360.0" y="194.6" font-size="6.3" text-anchor="start" fill="#222" textLength="74.6" lengthAdjust="spacingAndGlyphs" stroke="#222" stroke-width="0.2">Pad temperature : 60</text>
<text class="s" x="437.9" y="194.6" font-size="6.1" text-anchor="start" fill="#222" stroke="#222" stroke-width="0.25" style="font-family:'Liberation Sans','Noto Sans CJK KR',sans-serif">℃</text>
<rect x="337.0" y="197.8" width="20.4" height="5.6" fill="#ff0000"/>
<text class="s" x="360.0" y="202.8" font-size="6.3" text-anchor="start" fill="#222" textLength="74.6" lengthAdjust="spacingAndGlyphs" stroke="#222" stroke-width="0.2">Pad temperature : 80</text>
<text class="s" x="437.9" y="202.8" font-size="6.1" text-anchor="start" fill="#222" stroke="#222" stroke-width="0.25" style="font-family:'Liberation Sans','Noto Sans CJK KR',sans-serif">℃</text>
</svg></body></html>
